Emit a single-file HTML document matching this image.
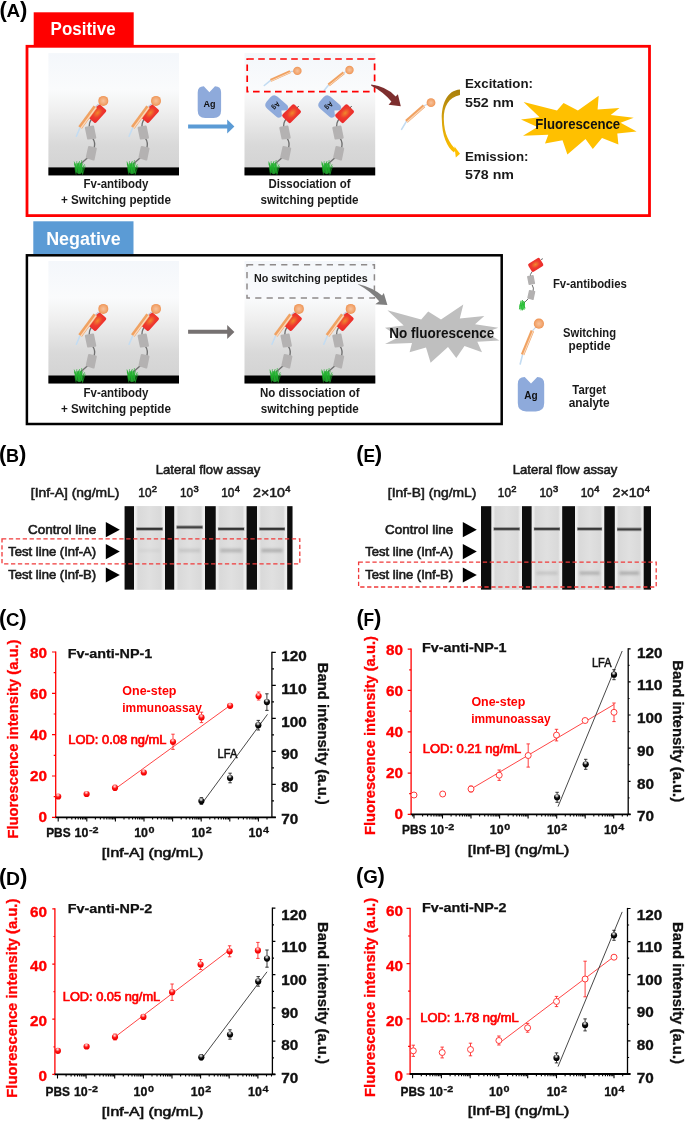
<!DOCTYPE html>
<html lang="en"><head><meta charset="utf-8"><title>Figure</title>
<style>html,body{margin:0;padding:0;background:#fff}svg{display:block}text{font-family:"Liberation Sans", sans-serif}</style>
</head><body>
<svg width="685" height="1121" viewBox="0 0 685 1121">
<defs>
<linearGradient id="gImg" x1="0" y1="0" x2="0" y2="1"><stop offset="0" stop-color="#f4f7fb"/><stop offset="0.3" stop-color="#fafbfc"/><stop offset="0.45" stop-color="#f1f1f1"/><stop offset="0.75" stop-color="#d9d9d9"/><stop offset="1" stop-color="#d2d2d2"/></linearGradient>
<radialGradient id="gRed" cx="0.5" cy="0.45" r="0.6"><stop offset="0" stop-color="#f08a2c"/><stop offset="0.55" stop-color="#ee3b2e"/><stop offset="1" stop-color="#ec2a2a"/></radialGradient>
<radialGradient id="gBall" cx="0.5" cy="0.5" r="0.5"><stop offset="0" stop-color="#f7c29c"/><stop offset="0.7" stop-color="#f2a66f"/><stop offset="1" stop-color="#ee9150"/></radialGradient>
<radialGradient id="gSphR" cx="0.45" cy="0.26" r="0.62"><stop offset="0" stop-color="#ffe4e4"/><stop offset="0.28" stop-color="#ff8a8a"/><stop offset="0.55" stop-color="#ff1a1a"/><stop offset="1" stop-color="#f00000"/></radialGradient>
<radialGradient id="gSphK" cx="0.45" cy="0.26" r="0.62"><stop offset="0" stop-color="#f4f4f4"/><stop offset="0.28" stop-color="#9c9c9c"/><stop offset="0.55" stop-color="#151515"/><stop offset="1" stop-color="#000"/></radialGradient>
<linearGradient id="gGold" x1="0" y1="0" x2="0" y2="1"><stop offset="0" stop-color="#a87f0c"/><stop offset="0.5" stop-color="#d9a40c"/><stop offset="1" stop-color="#ffc000"/></linearGradient>
<linearGradient id="gStrip" x1="0" y1="0" x2="1" y2="0"><stop offset="0" stop-color="#f0f0f0"/><stop offset="0.07" stop-color="#ececec"/><stop offset="0.13" stop-color="#d9d9d9"/><stop offset="0.5" stop-color="#e0e0e0"/><stop offset="0.87" stop-color="#d9d9d9"/><stop offset="0.93" stop-color="#ececec"/><stop offset="1" stop-color="#f0f0f0"/></linearGradient>
<linearGradient id="gGArr" x1="0" y1="0" x2="1" y2="1"><stop offset="0" stop-color="#8a8a8a"/><stop offset="1" stop-color="#a9a9a9"/></linearGradient>
<filter id="fBlur" x="-10%" y="-100%" width="120%" height="300%"><feGaussianBlur stdDeviation="0.9"/></filter>
</defs>
<rect width="685" height="1121" fill="#fff"/>
<text x="-0.6" y="16.7" font-size="22" font-weight="bold" fill="#000">(</text>
<text x="6.5" y="17.3" font-size="19" font-weight="bold" fill="#000" textLength="13.7" lengthAdjust="spacingAndGlyphs">A</text>
<text x="20.0" y="16.7" font-size="22" font-weight="bold" fill="#000">)</text>
<rect x="33.7" y="12.3" width="100" height="34" fill="#ff0000"/>
<text x="50.6" y="35.4" font-size="18" font-weight="bold" fill="#fff" textLength="65.0" lengthAdjust="spacingAndGlyphs">Positive</text>
<rect x="27" y="46.3" width="622.5" height="169.3" fill="#fff" stroke="#ff0000" stroke-width="2.8"/>
<rect x="48.4" y="53.1" width="130.6" height="122.3" fill="url(#gImg)"/>
<rect x="48.4" y="167.4" width="130.6" height="8.0" fill="#000"/>
<path d="M91.4 119.3Q88.5 123.3 89.6 127.8M92.6 138.1Q95.6 142.3 94.2 147.8M87.6 157.7L80.5 164.1" stroke="#707070" stroke-width="1.35" fill="none" stroke-linecap="round"/>
<path d="M86.0 127.9L93.0 126.6L95.2 137.6L88.2 138.4Z" fill="#b4b2b2" stroke="#b4b2b2" stroke-width="2.2" stroke-linejoin="round"/>
<path d="M89.1 147.2L95.7 148.5L93.5 159.5L86.9 157.3Z" fill="#b4b2b2" stroke="#b4b2b2" stroke-width="2.2" stroke-linejoin="round"/>
<ellipse cx="79.1" cy="168.5" rx="3.4" ry="5.8" fill="#30c840" opacity="0.62"/>
<path d="M78.7 170.8L81.2 164.6M79.1 171.0L77.4 163.7M79.9 172.6L78.1 166.9M76.1 172.8L76.9 168.2M82.5 174.0L83.7 165.8M76.5 166.4L76.8 161.5M76.8 168.2L74.3 161.9M78.6 173.0L78.9 164.4M79.0 171.6L79.0 165.3M82.6 174.3L85.1 166.2M77.7 168.1L77.0 163.3M80.9 169.5L82.9 163.3M82.3 173.1L80.3 168.3M82.0 170.1L84.6 164.5M75.9 171.3L77.4 165.6M76.0 169.0L79.5 161.5M76.2 168.3L74.9 163.9M81.1 167.7L81.7 160.4M76.8 172.2L74.6 164.3M76.2 169.7L75.0 163.8M82.4 172.7L81.1 162.7M76.9 169.5L79.4 161.9M76.1 174.2L74.9 168.4M81.0 168.9L80.3 164.1M76.0 171.0L74.6 162.9M78.1 169.9L80.8 163.8M79.5 173.2L78.3 168.1M81.9 172.8L81.0 167.3M80.7 173.8L78.5 163.8M81.8 171.1L81.6 166.0" stroke="#1fae2b" stroke-width="0.7" stroke-linecap="round" fill="none" opacity="0.8"/>
<rect x="-5.6" y="-8.7" width="11.2" height="17.4" rx="1.8" fill="url(#gRed)" transform="translate(97.0 113.5) rotate(42)"/>
<line x1="80.1" y1="127.5" x2="76.4" y2="136.2" stroke="#c3dcf2" stroke-width="1.6" stroke-linecap="round"/>
<line x1="95.4" y1="106.7" x2="103.3" y2="100.9" stroke="#c9d6e6" stroke-width="1.2"/>
<line x1="95.4" y1="106.7" x2="80.1" y2="127.5" stroke="#f0a262" stroke-width="4.4"/>
<line x1="96.2" y1="107.3" x2="80.9" y2="128.1" stroke="#fbd9bd" stroke-width="1.32"/>
<circle cx="103.3" cy="100.9" r="5.0" fill="url(#gBall)"/>
<path d="M144.1 119.3Q141.2 123.3 142.3 127.8M145.3 138.1Q148.3 142.3 146.9 147.8M140.3 157.7L133.2 164.1" stroke="#707070" stroke-width="1.35" fill="none" stroke-linecap="round"/>
<path d="M138.7 127.9L145.7 126.6L147.9 137.6L140.9 138.4Z" fill="#b4b2b2" stroke="#b4b2b2" stroke-width="2.2" stroke-linejoin="round"/>
<path d="M141.8 147.2L148.4 148.5L146.2 159.5L139.6 157.3Z" fill="#b4b2b2" stroke="#b4b2b2" stroke-width="2.2" stroke-linejoin="round"/>
<ellipse cx="131.8" cy="168.5" rx="3.4" ry="5.8" fill="#30c840" opacity="0.62"/>
<path d="M131.4 170.8L133.9 164.6M131.8 171.0L130.1 163.7M132.6 172.6L130.8 166.9M128.8 172.8L129.6 168.2M135.2 174.0L136.4 165.8M129.2 166.4L129.5 161.5M129.5 168.2L127.0 161.9M131.3 173.0L131.6 164.4M131.7 171.6L131.7 165.3M135.3 174.3L137.8 166.2M130.4 168.1L129.7 163.3M133.6 169.5L135.6 163.3M135.0 173.1L133.0 168.3M134.7 170.1L137.3 164.5M128.6 171.3L130.1 165.6M128.7 169.0L132.2 161.5M128.9 168.3L127.6 163.9M133.8 167.7L134.4 160.4M129.5 172.2L127.3 164.3M128.9 169.7L127.7 163.8M135.1 172.7L133.8 162.7M129.6 169.5L132.1 161.9M128.8 174.2L127.6 168.4M133.7 168.9L133.0 164.1M128.7 171.0L127.3 162.9M130.8 169.9L133.5 163.8M132.2 173.2L131.0 168.1M134.6 172.8L133.7 167.3M133.4 173.8L131.2 163.8M134.5 171.1L134.3 166.0" stroke="#1fae2b" stroke-width="0.7" stroke-linecap="round" fill="none" opacity="0.8"/>
<rect x="-5.6" y="-8.7" width="11.2" height="17.4" rx="1.8" fill="url(#gRed)" transform="translate(149.7 113.5) rotate(42)"/>
<line x1="132.8" y1="127.5" x2="129.1" y2="136.2" stroke="#c3dcf2" stroke-width="1.6" stroke-linecap="round"/>
<line x1="148.1" y1="106.7" x2="156.0" y2="100.9" stroke="#c9d6e6" stroke-width="1.2"/>
<line x1="148.1" y1="106.7" x2="132.8" y2="127.5" stroke="#f0a262" stroke-width="4.4"/>
<line x1="148.9" y1="107.3" x2="133.6" y2="128.1" stroke="#fbd9bd" stroke-width="1.32"/>
<circle cx="156.0" cy="100.9" r="5.0" fill="url(#gBall)"/>
<text x="116.0" y="187.9" font-size="12.5" font-weight="bold" fill="#1a1a1a" text-anchor="middle" textLength="65.0" lengthAdjust="spacingAndGlyphs">Fv-antibody</text>
<text x="116.0" y="204.1" font-size="12.5" font-weight="bold" fill="#1a1a1a" text-anchor="middle" textLength="110.0" lengthAdjust="spacingAndGlyphs">+ Switching peptide</text>
<g transform="translate(209.4 102.2) rotate(0)">
<path d="M-5.6 -15.9L-5.6 -15.9L0 -9.9L5.6 -15.9L5.6 -15.9Q11.7 -15.9 11.7 -9.8L11.7 8.4Q11.7 15.9 4.2 15.9L-4.2 15.9Q-11.7 15.9 -11.7 8.4L-11.7 -9.8Q-11.7 -15.9 -5.6 -15.9Z" fill="#8eaadb"/>
<text x="0.0" y="4.5" font-size="9.8" font-weight="bold" fill="#111" text-anchor="middle" textLength="12.0" lengthAdjust="spacingAndGlyphs">Ag</text>
</g>
<path d="M188.1 124.4H227.2V119.4L234.4 126.4L227.2 133.4V128.4H188.1Z" fill="#5b9bd5"/>
<rect x="244.5" y="53.1" width="130.7" height="122.3" fill="url(#gImg)"/>
<rect x="244.5" y="167.4" width="130.7" height="8.0" fill="#000"/>
<path d="M285.8 119.3Q282.9 123.3 284.0 127.8M287.0 138.1Q290.0 142.3 288.6 147.8M282.0 157.7L274.9 164.1" stroke="#707070" stroke-width="1.35" fill="none" stroke-linecap="round"/>
<path d="M280.4 127.9L287.4 126.6L289.6 137.6L282.6 138.4Z" fill="#b4b2b2" stroke="#b4b2b2" stroke-width="2.2" stroke-linejoin="round"/>
<path d="M283.5 147.2L290.1 148.5L287.9 159.5L281.3 157.3Z" fill="#b4b2b2" stroke="#b4b2b2" stroke-width="2.2" stroke-linejoin="round"/>
<ellipse cx="273.5" cy="168.5" rx="3.4" ry="5.8" fill="#30c840" opacity="0.62"/>
<path d="M273.1 170.8L275.6 164.6M273.5 171.0L271.8 163.7M274.3 172.6L272.5 166.9M270.5 172.8L271.3 168.2M276.9 174.0L278.1 165.8M270.9 166.4L271.2 161.5M271.2 168.2L268.7 161.9M273.0 173.0L273.3 164.4M273.4 171.6L273.4 165.3M277.0 174.3L279.5 166.2M272.1 168.1L271.4 163.3M275.3 169.5L277.3 163.3M276.7 173.1L274.7 168.3M276.4 170.1L279.0 164.5M270.3 171.3L271.8 165.6M270.4 169.0L273.9 161.5M270.6 168.3L269.3 163.9M275.5 167.7L276.1 160.4M271.2 172.2L269.0 164.3M270.6 169.7L269.4 163.8M276.8 172.7L275.5 162.7M271.3 169.5L273.8 161.9M270.5 174.2L269.3 168.4M275.4 168.9L274.7 164.1M270.4 171.0L269.0 162.9M272.5 169.9L275.2 163.8M273.9 173.2L272.7 168.1M276.3 172.8L275.4 167.3M275.1 173.8L272.9 163.8M276.2 171.1L276.0 166.0" stroke="#1fae2b" stroke-width="0.7" stroke-linecap="round" fill="none" opacity="0.8"/>
<line x1="296.6" y1="108.3" x2="298.6" y2="106.1" stroke="#444" stroke-width="1"/>
<rect x="-5.8" y="-8.5" width="11.6" height="17" rx="1.8" fill="url(#gRed)" transform="translate(291.6 113.7) rotate(45)"/>
<g transform="translate(276.5 106.3) rotate(131)">
<path d="M-3.8 -10.5L-3.8 -10.5L0 -6.5L3.8 -10.5L3.8 -10.5Q7.9 -10.5 7.9 -6.4L7.9 5.4Q7.9 10.5 2.8 10.5L-2.8 10.5Q-7.9 10.5 -7.9 5.4L-7.9 -6.4Q-7.9 -10.5 -3.8 -10.5Z" fill="#8eaadb"/>
<text x="0.0" y="2.9" font-size="7" font-weight="bold" fill="#111" text-anchor="middle" textLength="8.0" lengthAdjust="spacingAndGlyphs">Ag</text>
</g>
<path d="M338.8 119.3Q335.9 123.3 337.0 127.8M340.0 138.1Q343.0 142.3 341.6 147.8M335.0 157.7L327.9 164.1" stroke="#707070" stroke-width="1.35" fill="none" stroke-linecap="round"/>
<path d="M333.4 127.9L340.4 126.6L342.6 137.6L335.6 138.4Z" fill="#b4b2b2" stroke="#b4b2b2" stroke-width="2.2" stroke-linejoin="round"/>
<path d="M336.5 147.2L343.1 148.5L340.9 159.5L334.3 157.3Z" fill="#b4b2b2" stroke="#b4b2b2" stroke-width="2.2" stroke-linejoin="round"/>
<ellipse cx="326.5" cy="168.5" rx="3.4" ry="5.8" fill="#30c840" opacity="0.62"/>
<path d="M326.1 170.8L328.6 164.6M326.5 171.0L324.8 163.7M327.3 172.6L325.5 166.9M323.5 172.8L324.3 168.2M329.9 174.0L331.1 165.8M323.9 166.4L324.2 161.5M324.2 168.2L321.7 161.9M326.0 173.0L326.3 164.4M326.4 171.6L326.4 165.3M330.0 174.3L332.5 166.2M325.1 168.1L324.4 163.3M328.3 169.5L330.3 163.3M329.7 173.1L327.7 168.3M329.4 170.1L332.0 164.5M323.3 171.3L324.8 165.6M323.4 169.0L326.9 161.5M323.6 168.3L322.3 163.9M328.5 167.7L329.1 160.4M324.2 172.2L322.0 164.3M323.6 169.7L322.4 163.8M329.8 172.7L328.5 162.7M324.3 169.5L326.8 161.9M323.5 174.2L322.3 168.4M328.4 168.9L327.7 164.1M323.4 171.0L322.0 162.9M325.5 169.9L328.2 163.8M326.9 173.2L325.7 168.1M329.3 172.8L328.4 167.3M328.1 173.8L325.9 163.8M329.2 171.1L329.0 166.0" stroke="#1fae2b" stroke-width="0.7" stroke-linecap="round" fill="none" opacity="0.8"/>
<line x1="349.6" y1="108.3" x2="351.6" y2="106.1" stroke="#444" stroke-width="1"/>
<rect x="-5.8" y="-8.5" width="11.6" height="17" rx="1.8" fill="url(#gRed)" transform="translate(344.6 113.7) rotate(45)"/>
<g transform="translate(329.5 106.3) rotate(131)">
<path d="M-3.8 -10.5L-3.8 -10.5L0 -6.5L3.8 -10.5L3.8 -10.5Q7.9 -10.5 7.9 -6.4L7.9 5.4Q7.9 10.5 2.8 10.5L-2.8 10.5Q-7.9 10.5 -7.9 5.4L-7.9 -6.4Q-7.9 -10.5 -3.8 -10.5Z" fill="#8eaadb"/>
<text x="0.0" y="2.9" font-size="7" font-weight="bold" fill="#111" text-anchor="middle" textLength="8.0" lengthAdjust="spacingAndGlyphs">Ag</text>
</g>
<line x1="270.6" y1="80.4" x2="264.3" y2="85.5" stroke="#c3dcf2" stroke-width="1.6" stroke-linecap="round"/>
<line x1="290.2" y1="71.6" x2="297.4" y2="70.9" stroke="#c9d6e6" stroke-width="1.2"/>
<line x1="290.2" y1="71.6" x2="270.6" y2="80.4" stroke="#f0a262" stroke-width="3.2"/>
<line x1="290.5" y1="72.2" x2="270.9" y2="81.0" stroke="#fbd9bd" stroke-width="0.96"/>
<circle cx="297.4" cy="70.9" r="4.2" fill="url(#gBall)"/>
<line x1="328.6" y1="85.0" x2="324.3" y2="90.2" stroke="#c3dcf2" stroke-width="1.6" stroke-linecap="round"/>
<line x1="343.8" y1="72.8" x2="349.5" y2="70.0" stroke="#c9d6e6" stroke-width="1.2"/>
<line x1="343.8" y1="72.8" x2="328.6" y2="85.0" stroke="#f0a262" stroke-width="3.2"/>
<line x1="344.2" y1="73.3" x2="329.0" y2="85.5" stroke="#fbd9bd" stroke-width="0.96"/>
<circle cx="349.5" cy="70.0" r="4.2" fill="url(#gBall)"/>
<rect x="247.2" y="59.0" width="127.4" height="32.6" fill="none" stroke="#ff0000" stroke-width="1.7" stroke-dasharray="6.6 4.4"/>
<text x="309.5" y="187.9" font-size="12.5" font-weight="bold" fill="#1a1a1a" text-anchor="middle" textLength="82.0" lengthAdjust="spacingAndGlyphs">Dissociation of</text>
<text x="309.5" y="203.7" font-size="12.5" font-weight="bold" fill="#1a1a1a" text-anchor="middle" textLength="98.0" lengthAdjust="spacingAndGlyphs">switching peptide</text>
<path d="M371.2 84.6Q386.5 86.6 395.6 96.4L397.9 94.2L400.8 106.3L388.6 104.7L391.4 101.6Q383.5 91.8 371.2 85.7Z" fill="#7d2e2e"/>
<line x1="406.4" y1="121.4" x2="401.6" y2="129.4" stroke="#c3dcf2" stroke-width="1.6" stroke-linecap="round"/>
<line x1="424.0" y1="105.8" x2="431.0" y2="102.7" stroke="#c9d6e6" stroke-width="1.2"/>
<line x1="424.0" y1="105.8" x2="406.4" y2="121.4" stroke="#f0a262" stroke-width="3.6"/>
<line x1="424.5" y1="106.4" x2="406.9" y2="122.0" stroke="#fbd9bd" stroke-width="1.08"/>
<circle cx="431.0" cy="102.7" r="4.4" fill="url(#gBall)"/>
<path d="M460 89.6C447 90.5 441.6 104 441.8 119C442 136 447 147 454.0 152.6L455.8 149.2C449.6 143.5 444.0 134 443.8 119C443.6 106.5 448.5 97.2 460 95Z" fill="url(#gGold)"/>
<path d="M460.0 153.8L455.8 157.6L454.4 146.2Z" fill="#ffc000"/>
<text x="465.0" y="88.2" font-size="13.2" font-weight="bold" fill="#1a1a1a" textLength="68.0" lengthAdjust="spacingAndGlyphs">Excitation:</text>
<text x="465.0" y="107.0" font-size="13.2" font-weight="bold" fill="#1a1a1a" textLength="49.0" lengthAdjust="spacingAndGlyphs">552 nm</text>
<text x="465.0" y="160.5" font-size="13.2" font-weight="bold" fill="#1a1a1a" textLength="63.5" lengthAdjust="spacingAndGlyphs">Emission:</text>
<text x="465.0" y="179.3" font-size="13.2" font-weight="bold" fill="#1a1a1a" textLength="49.0" lengthAdjust="spacingAndGlyphs">578 nm</text>
<path d="M598.7 95.8L597.6 109.6L619.5 108.0L610.7 115.0L633.7 117.7L620.6 122.7L636.6 131.5L617.3 133.6L618.4 144.6L602.0 138.0L592.8 149.0L585.5 139.0L567.4 154.4L562.5 140.2L545.0 143.5L548.3 134.7L523.0 135.8L537.4 127.0L521.0 119.4L539.6 117.2L523.6 101.9L557.0 110.6L563.6 103.0L577.9 110.6Z" fill="#ffc000"/>
<text x="535.2" y="128.6" font-size="14" font-weight="bold" fill="#111" textLength="85.0" lengthAdjust="spacingAndGlyphs">Fluorescence</text>
<rect x="33.3" y="221.3" width="100.2" height="33" fill="#5b9bd5"/>
<text x="46.2" y="244.7" font-size="18.3" font-weight="bold" fill="#fff" textLength="74.6" lengthAdjust="spacingAndGlyphs">Negative</text>
<rect x="26.9" y="255.3" width="474.8" height="168.7" fill="#fff" stroke="#000" stroke-width="2.5"/>
<rect x="48.4" y="261" width="130.6" height="122.5" fill="url(#gImg)"/>
<rect x="48.4" y="375.5" width="130.6" height="8.0" fill="#000"/>
<path d="M91.4 327.3Q88.5 331.3 89.6 335.8M92.6 346.1Q95.6 350.3 94.2 355.8M87.6 365.7L80.5 372.1" stroke="#707070" stroke-width="1.35" fill="none" stroke-linecap="round"/>
<path d="M86.0 335.9L93.0 334.6L95.2 345.6L88.2 346.4Z" fill="#b4b2b2" stroke="#b4b2b2" stroke-width="2.2" stroke-linejoin="round"/>
<path d="M89.1 355.2L95.7 356.5L93.5 367.5L86.9 365.3Z" fill="#b4b2b2" stroke="#b4b2b2" stroke-width="2.2" stroke-linejoin="round"/>
<ellipse cx="79.1" cy="376.5" rx="3.4" ry="5.8" fill="#30c840" opacity="0.62"/>
<path d="M78.7 378.8L81.2 372.6M79.1 379.0L77.4 371.7M79.9 380.6L78.1 374.9M76.1 380.8L76.9 376.2M82.5 382.0L83.7 373.8M76.5 374.4L76.8 369.5M76.8 376.2L74.3 369.9M78.6 381.0L78.9 372.4M79.0 379.6L79.0 373.3M82.6 382.3L85.1 374.2M77.7 376.1L77.0 371.3M80.9 377.5L82.9 371.3M82.3 381.1L80.3 376.3M82.0 378.1L84.6 372.5M75.9 379.3L77.4 373.6M76.0 377.0L79.5 369.5M76.2 376.3L74.9 371.9M81.1 375.7L81.7 368.4M76.8 380.2L74.6 372.3M76.2 377.7L75.0 371.8M82.4 380.7L81.1 370.7M76.9 377.5L79.4 369.9M76.1 382.2L74.9 376.4M81.0 376.9L80.3 372.1M76.0 379.0L74.6 370.9M78.1 377.9L80.8 371.8M79.5 381.2L78.3 376.1M81.9 380.8L81.0 375.3M80.7 381.8L78.5 371.8M81.8 379.1L81.6 374.0" stroke="#1fae2b" stroke-width="0.7" stroke-linecap="round" fill="none" opacity="0.8"/>
<rect x="-5.6" y="-8.7" width="11.2" height="17.4" rx="1.8" fill="url(#gRed)" transform="translate(97.0 321.5) rotate(42)"/>
<line x1="80.1" y1="335.5" x2="76.4" y2="344.2" stroke="#c3dcf2" stroke-width="1.6" stroke-linecap="round"/>
<line x1="95.4" y1="314.7" x2="103.3" y2="308.9" stroke="#c9d6e6" stroke-width="1.2"/>
<line x1="95.4" y1="314.7" x2="80.1" y2="335.5" stroke="#f0a262" stroke-width="4.4"/>
<line x1="96.2" y1="315.3" x2="80.9" y2="336.1" stroke="#fbd9bd" stroke-width="1.32"/>
<circle cx="103.3" cy="308.9" r="5.0" fill="url(#gBall)"/>
<path d="M144.1 327.3Q141.2 331.3 142.3 335.8M145.3 346.1Q148.3 350.3 146.9 355.8M140.3 365.7L133.2 372.1" stroke="#707070" stroke-width="1.35" fill="none" stroke-linecap="round"/>
<path d="M138.7 335.9L145.7 334.6L147.9 345.6L140.9 346.4Z" fill="#b4b2b2" stroke="#b4b2b2" stroke-width="2.2" stroke-linejoin="round"/>
<path d="M141.8 355.2L148.4 356.5L146.2 367.5L139.6 365.3Z" fill="#b4b2b2" stroke="#b4b2b2" stroke-width="2.2" stroke-linejoin="round"/>
<ellipse cx="131.8" cy="376.5" rx="3.4" ry="5.8" fill="#30c840" opacity="0.62"/>
<path d="M131.4 378.8L133.9 372.6M131.8 379.0L130.1 371.7M132.6 380.6L130.8 374.9M128.8 380.8L129.6 376.2M135.2 382.0L136.4 373.8M129.2 374.4L129.5 369.5M129.5 376.2L127.0 369.9M131.3 381.0L131.6 372.4M131.7 379.6L131.7 373.3M135.3 382.3L137.8 374.2M130.4 376.1L129.7 371.3M133.6 377.5L135.6 371.3M135.0 381.1L133.0 376.3M134.7 378.1L137.3 372.5M128.6 379.3L130.1 373.6M128.7 377.0L132.2 369.5M128.9 376.3L127.6 371.9M133.8 375.7L134.4 368.4M129.5 380.2L127.3 372.3M128.9 377.7L127.7 371.8M135.1 380.7L133.8 370.7M129.6 377.5L132.1 369.9M128.8 382.2L127.6 376.4M133.7 376.9L133.0 372.1M128.7 379.0L127.3 370.9M130.8 377.9L133.5 371.8M132.2 381.2L131.0 376.1M134.6 380.8L133.7 375.3M133.4 381.8L131.2 371.8M134.5 379.1L134.3 374.0" stroke="#1fae2b" stroke-width="0.7" stroke-linecap="round" fill="none" opacity="0.8"/>
<rect x="-5.6" y="-8.7" width="11.2" height="17.4" rx="1.8" fill="url(#gRed)" transform="translate(149.7 321.5) rotate(42)"/>
<line x1="132.8" y1="335.5" x2="129.1" y2="344.2" stroke="#c3dcf2" stroke-width="1.6" stroke-linecap="round"/>
<line x1="148.1" y1="314.7" x2="156.0" y2="308.9" stroke="#c9d6e6" stroke-width="1.2"/>
<line x1="148.1" y1="314.7" x2="132.8" y2="335.5" stroke="#f0a262" stroke-width="4.4"/>
<line x1="148.9" y1="315.3" x2="133.6" y2="336.1" stroke="#fbd9bd" stroke-width="1.32"/>
<circle cx="156.0" cy="308.9" r="5.0" fill="url(#gBall)"/>
<text x="116.0" y="396.9" font-size="12.5" font-weight="bold" fill="#1a1a1a" text-anchor="middle" textLength="65.0" lengthAdjust="spacingAndGlyphs">Fv-antibody</text>
<text x="116.0" y="412.7" font-size="12.5" font-weight="bold" fill="#1a1a1a" text-anchor="middle" textLength="110.0" lengthAdjust="spacingAndGlyphs">+ Switching peptide</text>
<path d="M188.1 329.8H227.2V324.9L234.4 331.9L227.2 338.9V333.8H188.1Z" fill="#767171"/>
<rect x="244.5" y="261" width="130.8" height="122.5" fill="url(#gImg)"/>
<rect x="244.5" y="375.5" width="130.8" height="8.0" fill="#000"/>
<path d="M287.0 327.3Q284.1 331.3 285.2 335.8M288.2 346.1Q291.2 350.3 289.8 355.8M283.2 365.7L276.1 372.1" stroke="#707070" stroke-width="1.35" fill="none" stroke-linecap="round"/>
<path d="M281.6 335.9L288.6 334.6L290.8 345.6L283.8 346.4Z" fill="#b4b2b2" stroke="#b4b2b2" stroke-width="2.2" stroke-linejoin="round"/>
<path d="M284.7 355.2L291.3 356.5L289.1 367.5L282.5 365.3Z" fill="#b4b2b2" stroke="#b4b2b2" stroke-width="2.2" stroke-linejoin="round"/>
<ellipse cx="274.7" cy="376.5" rx="3.4" ry="5.8" fill="#30c840" opacity="0.62"/>
<path d="M274.3 378.8L276.8 372.6M274.7 379.0L273.0 371.7M275.5 380.6L273.7 374.9M271.7 380.8L272.5 376.2M278.1 382.0L279.3 373.8M272.1 374.4L272.4 369.5M272.4 376.2L269.9 369.9M274.2 381.0L274.5 372.4M274.6 379.6L274.6 373.3M278.2 382.3L280.7 374.2M273.3 376.1L272.6 371.3M276.5 377.5L278.5 371.3M277.9 381.1L275.9 376.3M277.6 378.1L280.2 372.5M271.5 379.3L273.0 373.6M271.6 377.0L275.1 369.5M271.8 376.3L270.5 371.9M276.7 375.7L277.3 368.4M272.4 380.2L270.2 372.3M271.8 377.7L270.6 371.8M278.0 380.7L276.7 370.7M272.5 377.5L275.0 369.9M271.7 382.2L270.5 376.4M276.6 376.9L275.9 372.1M271.6 379.0L270.2 370.9M273.7 377.9L276.4 371.8M275.1 381.2L273.9 376.1M277.5 380.8L276.6 375.3M276.3 381.8L274.1 371.8M277.4 379.1L277.2 374.0" stroke="#1fae2b" stroke-width="0.7" stroke-linecap="round" fill="none" opacity="0.8"/>
<rect x="-5.6" y="-8.7" width="11.2" height="17.4" rx="1.8" fill="url(#gRed)" transform="translate(292.6 321.5) rotate(42)"/>
<line x1="275.7" y1="335.5" x2="272.0" y2="344.2" stroke="#c3dcf2" stroke-width="1.6" stroke-linecap="round"/>
<line x1="291.0" y1="314.7" x2="298.9" y2="308.9" stroke="#c9d6e6" stroke-width="1.2"/>
<line x1="291.0" y1="314.7" x2="275.7" y2="335.5" stroke="#f0a262" stroke-width="4.4"/>
<line x1="291.8" y1="315.3" x2="276.5" y2="336.1" stroke="#fbd9bd" stroke-width="1.32"/>
<circle cx="298.9" cy="308.9" r="5.0" fill="url(#gBall)"/>
<path d="M338.8 327.3Q335.9 331.3 337.0 335.8M340.0 346.1Q343.0 350.3 341.6 355.8M335.0 365.7L327.9 372.1" stroke="#707070" stroke-width="1.35" fill="none" stroke-linecap="round"/>
<path d="M333.4 335.9L340.4 334.6L342.6 345.6L335.6 346.4Z" fill="#b4b2b2" stroke="#b4b2b2" stroke-width="2.2" stroke-linejoin="round"/>
<path d="M336.5 355.2L343.1 356.5L340.9 367.5L334.3 365.3Z" fill="#b4b2b2" stroke="#b4b2b2" stroke-width="2.2" stroke-linejoin="round"/>
<ellipse cx="326.5" cy="376.5" rx="3.4" ry="5.8" fill="#30c840" opacity="0.62"/>
<path d="M326.1 378.8L328.6 372.6M326.5 379.0L324.8 371.7M327.3 380.6L325.5 374.9M323.5 380.8L324.3 376.2M329.9 382.0L331.1 373.8M323.9 374.4L324.2 369.5M324.2 376.2L321.7 369.9M326.0 381.0L326.3 372.4M326.4 379.6L326.4 373.3M330.0 382.3L332.5 374.2M325.1 376.1L324.4 371.3M328.3 377.5L330.3 371.3M329.7 381.1L327.7 376.3M329.4 378.1L332.0 372.5M323.3 379.3L324.8 373.6M323.4 377.0L326.9 369.5M323.6 376.3L322.3 371.9M328.5 375.7L329.1 368.4M324.2 380.2L322.0 372.3M323.6 377.7L322.4 371.8M329.8 380.7L328.5 370.7M324.3 377.5L326.8 369.9M323.5 382.2L322.3 376.4M328.4 376.9L327.7 372.1M323.4 379.0L322.0 370.9M325.5 377.9L328.2 371.8M326.9 381.2L325.7 376.1M329.3 380.8L328.4 375.3M328.1 381.8L325.9 371.8M329.2 379.1L329.0 374.0" stroke="#1fae2b" stroke-width="0.7" stroke-linecap="round" fill="none" opacity="0.8"/>
<rect x="-5.6" y="-8.7" width="11.2" height="17.4" rx="1.8" fill="url(#gRed)" transform="translate(344.4 321.5) rotate(42)"/>
<line x1="327.5" y1="335.5" x2="323.8" y2="344.2" stroke="#c3dcf2" stroke-width="1.6" stroke-linecap="round"/>
<line x1="342.8" y1="314.7" x2="350.7" y2="308.9" stroke="#c9d6e6" stroke-width="1.2"/>
<line x1="342.8" y1="314.7" x2="327.5" y2="335.5" stroke="#f0a262" stroke-width="4.4"/>
<line x1="343.6" y1="315.3" x2="328.3" y2="336.1" stroke="#fbd9bd" stroke-width="1.32"/>
<circle cx="350.7" cy="308.9" r="5.0" fill="url(#gBall)"/>
<rect x="247" y="264.8" width="127.4" height="33.2" fill="#f6f8fb" fill-opacity="0.6" stroke="#8e8a8a" stroke-width="1.5" stroke-dasharray="6.2 5.2"/>
<text x="254.0" y="282.0" font-size="11.6" font-weight="bold" fill="#1a1a1a" textLength="113.8" lengthAdjust="spacingAndGlyphs">No switching peptides</text>
<text x="309.8" y="397.0" font-size="12.5" font-weight="bold" fill="#1a1a1a" text-anchor="middle" textLength="99.7" lengthAdjust="spacingAndGlyphs">No dissociation of</text>
<text x="309.8" y="412.7" font-size="12.5" font-weight="bold" fill="#1a1a1a" text-anchor="middle" textLength="98.0" lengthAdjust="spacingAndGlyphs">switching peptide</text>
<path d="M358.2 284.0Q372.5 287.6 382.0 295.4L383.8 293.0L387.4 305.0L375.2 304.3L379.2 301.2Q370.5 291.2 358.2 284.6Z" fill="#7f7f7f"/>
<path d="M463.3 304.4L459.8 318.4L484.3 316.0L475.0 324.2L498.3 327.7L485.5 332.4L499.5 340.6L477.3 341.8L482.0 352.3L464.5 346.0L456.3 358.0L448.0 347.0L430.6 362.8L426.0 347.6L409.6 352.3L412.0 343.0L385.0 344.0L399.0 337.0L385.0 327.7L403.7 325.4L387.4 310.2L421.2 319.6L428.2 311.4L441.0 319.6Z" fill="#bfbfbf"/>
<text x="389.2" y="337.6" font-size="14" font-weight="bold" fill="#111" textLength="105.0" lengthAdjust="spacingAndGlyphs">No fluorescence</text>
<path d="M532.2 271.5Q529.5 274.5 530.5 277.5M532.2 285Q534.2 288 533 291.5M528.5 298.5L524 303" stroke="#6b6b6b" stroke-width="1" fill="none"/>
<path d="M527.8 276.8L533 275.8L534.4 283.4L529.2 284.2Z" fill="#b3b1b1" stroke="#b3b1b1" stroke-width="1.4" stroke-linejoin="round"/>
<path d="M529.6 290.6L534.6 291.6L533 299.4L528 297.8Z" fill="#b3b1b1" stroke="#b3b1b1" stroke-width="1.4" stroke-linejoin="round"/>
<rect x="-6.8" y="-4.8" width="13.5" height="9.5" rx="1.8" fill="url(#gRed)" transform="translate(535.8 264.9) rotate(-32)"/>
<line x1="541.5" y1="260" x2="542.4" y2="258.4" stroke="#444" stroke-width="0.9"/>
<path d="M519.5 309L521 301M521 310L522.5 300.5M522.5 310L523.5 301.5M524 309.5L524.5 302M520 306L524.5 304M525 308L522 302" stroke="#1fb52a" stroke-width="0.9" fill="none" stroke-linecap="round"/>
<ellipse cx="522" cy="306" rx="2.6" ry="3.6" fill="#27c235" opacity="0.75"/>
<text x="552.9" y="288.3" font-size="12.5" font-weight="bold" fill="#1a1a1a" textLength="74.0" lengthAdjust="spacingAndGlyphs">Fv-antibodies</text>
<line x1="522.6" y1="354.6" x2="520.2" y2="364.0" stroke="#c3dcf2" stroke-width="1.6" stroke-linecap="round"/>
<line x1="532.4" y1="330.8" x2="538.9" y2="323.7" stroke="#c9d6e6" stroke-width="1.2"/>
<line x1="532.4" y1="330.8" x2="522.6" y2="354.6" stroke="#f0a262" stroke-width="3.6"/>
<line x1="533.1" y1="331.1" x2="523.3" y2="354.9" stroke="#fbd9bd" stroke-width="1.08"/>
<circle cx="538.9" cy="323.7" r="5.1" fill="url(#gBall)"/>
<text x="589.5" y="336.7" font-size="12.5" font-weight="bold" fill="#1a1a1a" text-anchor="middle" textLength="53.0" lengthAdjust="spacingAndGlyphs">Switching</text>
<text x="589.5" y="349.8" font-size="12.5" font-weight="bold" fill="#1a1a1a" text-anchor="middle" textLength="42.0" lengthAdjust="spacingAndGlyphs">peptide</text>
<g transform="translate(531.0 394.2) rotate(0)">
<path d="M-6.3 -17.2L-6.3 -17.2L0 -10.7L6.3 -17.2L6.3 -17.2Q13.2 -17.2 13.2 -10.3L13.2 8.8Q13.2 17.2 4.8 17.2L-4.8 17.2Q-13.2 17.2 -13.2 8.8L-13.2 -10.3Q-13.2 -17.2 -6.3 -17.2Z" fill="#8eaadb"/>
<text x="0.0" y="4.8" font-size="10.5" font-weight="bold" fill="#111" text-anchor="middle" textLength="13.4" lengthAdjust="spacingAndGlyphs">Ag</text>
</g>
<text x="589.2" y="393.9" font-size="12.5" font-weight="bold" fill="#1a1a1a" text-anchor="middle" textLength="33.7" lengthAdjust="spacingAndGlyphs">Target</text>
<text x="589.2" y="407.0" font-size="12.5" font-weight="bold" fill="#1a1a1a" text-anchor="middle" textLength="41.0" lengthAdjust="spacingAndGlyphs">analyte</text>
<text x="-1.0" y="461.3" font-size="22" font-weight="bold" fill="#000">(</text>
<text x="6.1" y="461.9" font-size="19" font-weight="bold" fill="#000" textLength="13.0" lengthAdjust="spacingAndGlyphs">B</text>
<text x="18.9" y="461.3" font-size="22" font-weight="bold" fill="#000">)</text>
<text x="155.8" y="474.3" font-size="12.8" font-weight="normal" fill="#1a1a1a" textLength="104.5" lengthAdjust="spacingAndGlyphs" stroke="#1a1a1a" stroke-width="0.55">Lateral flow assay</text>
<text x="30.8" y="497.1" font-size="12.8" font-weight="normal" fill="#1a1a1a" textLength="88.6" lengthAdjust="spacingAndGlyphs" stroke="#1a1a1a" stroke-width="0.55">[Inf-A] (ng/mL)</text>
<text x="138.3" y="496.9" font-size="13.2" font-weight="normal" fill="#1a1a1a" textLength="13.2" lengthAdjust="spacingAndGlyphs" stroke="#1a1a1a" stroke-width="0.55">10</text>
<text x="151.8" y="492.1" font-size="8.712" font-weight="normal" fill="#1a1a1a" textLength="5.2" lengthAdjust="spacingAndGlyphs" stroke="#1a1a1a" stroke-width="0.55">2</text>
<text x="180.0" y="496.9" font-size="13.2" font-weight="normal" fill="#1a1a1a" textLength="13.2" lengthAdjust="spacingAndGlyphs" stroke="#1a1a1a" stroke-width="0.55">10</text>
<text x="193.5" y="492.1" font-size="8.712" font-weight="normal" fill="#1a1a1a" textLength="5.2" lengthAdjust="spacingAndGlyphs" stroke="#1a1a1a" stroke-width="0.55">3</text>
<text x="221.2" y="496.9" font-size="13.2" font-weight="normal" fill="#1a1a1a" textLength="13.2" lengthAdjust="spacingAndGlyphs" stroke="#1a1a1a" stroke-width="0.55">10</text>
<text x="234.7" y="492.1" font-size="8.712" font-weight="normal" fill="#1a1a1a" textLength="5.2" lengthAdjust="spacingAndGlyphs" stroke="#1a1a1a" stroke-width="0.55">4</text>
<text x="253.0" y="496.9" font-size="13.2" font-weight="normal" fill="#1a1a1a" textLength="32.0" lengthAdjust="spacingAndGlyphs" stroke="#1a1a1a" stroke-width="0.55">2×10</text>
<text x="285.3" y="492.1" font-size="8.712" font-weight="normal" fill="#1a1a1a" textLength="5.2" lengthAdjust="spacingAndGlyphs" stroke="#1a1a1a" stroke-width="0.55">4</text>
<text x="96.2" y="534.3" font-size="12.8" font-weight="normal" fill="#1a1a1a" text-anchor="end" textLength="68.2" lengthAdjust="spacingAndGlyphs" stroke="#1a1a1a" stroke-width="0.6">Control line</text>
<text x="96.2" y="556.0" font-size="12.8" font-weight="normal" fill="#1a1a1a" text-anchor="end" textLength="88.0" lengthAdjust="spacingAndGlyphs" stroke="#1a1a1a" stroke-width="0.6">Test line (Inf-A)</text>
<text x="96.2" y="579.4" font-size="12.8" font-weight="normal" fill="#1a1a1a" text-anchor="end" textLength="88.0" lengthAdjust="spacingAndGlyphs" stroke="#1a1a1a" stroke-width="0.6">Test line (Inf-B)</text>
<path d="M105.8 522.1L119.8 529.7L105.8 537.3Z" fill="#000"/>
<path d="M105.8 544.0L119.8 551.6L105.8 559.2Z" fill="#000"/>
<path d="M105.8 567.4L119.8 575.0L105.8 582.6Z" fill="#000"/>
<rect x="124.6" y="506.2" width="167.9" height="83.4" fill="#dedede"/>
<rect x="134" y="506.2" width="31.0" height="83.4" fill="url(#gStrip)"/>
<rect x="136.2" y="527.0" width="26.6" height="3.8" fill="#8d8d8d" opacity="0.8"/>
<rect x="136.6" y="528.0" width="25.8" height="1.9" fill="#2c2c2c" opacity="0.95"/>
<rect x="138.0" y="548.1" width="23.0" height="4.8" rx="1.5" fill="#8a8a8a" opacity="0.03" filter="url(#fBlur)"/>
<rect x="139.0" y="549.4" width="21.0" height="2.2" rx="1" fill="#777" opacity="0.05" filter="url(#fBlur)"/>
<rect x="174.2" y="506.2" width="30.8" height="83.4" fill="url(#gStrip)"/>
<rect x="176.4" y="525.3" width="26.4" height="3.8" fill="#8d8d8d" opacity="0.8"/>
<rect x="176.8" y="526.3" width="25.6" height="1.9" fill="#2c2c2c" opacity="0.8"/>
<rect x="178.2" y="548.1" width="22.8" height="4.8" rx="1.5" fill="#8a8a8a" opacity="0.11" filter="url(#fBlur)"/>
<rect x="179.2" y="549.4" width="20.8" height="2.2" rx="1" fill="#777" opacity="0.16" filter="url(#fBlur)"/>
<rect x="215.7" y="506.2" width="30.9" height="83.4" fill="url(#gStrip)"/>
<rect x="217.9" y="527.0" width="26.5" height="3.8" fill="#8d8d8d" opacity="0.8"/>
<rect x="218.3" y="528.0" width="25.7" height="1.9" fill="#2c2c2c" opacity="0.95"/>
<rect x="219.7" y="548.1" width="22.9" height="4.8" rx="1.5" fill="#8a8a8a" opacity="0.21" filter="url(#fBlur)"/>
<rect x="220.7" y="549.4" width="20.9" height="2.2" rx="1" fill="#777" opacity="0.30" filter="url(#fBlur)"/>
<rect x="257" y="506.2" width="30.2" height="83.4" fill="url(#gStrip)"/>
<rect x="259.2" y="527.0" width="25.8" height="3.8" fill="#8d8d8d" opacity="0.8"/>
<rect x="259.6" y="528.0" width="25.0" height="1.9" fill="#2c2c2c" opacity="0.95"/>
<rect x="261.0" y="548.1" width="22.2" height="4.8" rx="1.5" fill="#8a8a8a" opacity="0.24" filter="url(#fBlur)"/>
<rect x="262.0" y="549.4" width="20.2" height="2.2" rx="1" fill="#777" opacity="0.34" filter="url(#fBlur)"/>
<rect x="124.6" y="506.2" width="9.4" height="83.4" fill="#0d0d0d"/>
<rect x="165" y="506.2" width="9.2" height="83.4" fill="#0d0d0d"/>
<rect x="205" y="506.2" width="10.7" height="83.4" fill="#0d0d0d"/>
<rect x="246.6" y="506.2" width="10.4" height="83.4" fill="#0d0d0d"/>
<rect x="287.2" y="506.2" width="5.3" height="83.4" fill="#0d0d0d"/>
<rect x="2" y="538.9" width="297.8" height="24.9" fill="none" stroke="#f03a3a" stroke-width="1.3" stroke-dasharray="4.3 2.6"/>
<text x="356.3" y="461.3" font-size="22" font-weight="bold" fill="#000">(</text>
<text x="363.4" y="461.9" font-size="19" font-weight="bold" fill="#000" textLength="11.6" lengthAdjust="spacingAndGlyphs">E</text>
<text x="374.8" y="461.3" font-size="22" font-weight="bold" fill="#000">)</text>
<text x="512.8" y="474.3" font-size="12.8" font-weight="normal" fill="#1a1a1a" textLength="104.5" lengthAdjust="spacingAndGlyphs" stroke="#1a1a1a" stroke-width="0.55">Lateral flow assay</text>
<text x="387.8" y="497.1" font-size="12.8" font-weight="normal" fill="#1a1a1a" textLength="88.6" lengthAdjust="spacingAndGlyphs" stroke="#1a1a1a" stroke-width="0.55">[Inf-B] (ng/mL)</text>
<text x="497.8" y="496.9" font-size="13.2" font-weight="normal" fill="#1a1a1a" textLength="13.2" lengthAdjust="spacingAndGlyphs" stroke="#1a1a1a" stroke-width="0.55">10</text>
<text x="511.3" y="492.1" font-size="8.712" font-weight="normal" fill="#1a1a1a" textLength="5.2" lengthAdjust="spacingAndGlyphs" stroke="#1a1a1a" stroke-width="0.55">2</text>
<text x="539.5" y="496.9" font-size="13.2" font-weight="normal" fill="#1a1a1a" textLength="13.2" lengthAdjust="spacingAndGlyphs" stroke="#1a1a1a" stroke-width="0.55">10</text>
<text x="553.0" y="492.1" font-size="8.712" font-weight="normal" fill="#1a1a1a" textLength="5.2" lengthAdjust="spacingAndGlyphs" stroke="#1a1a1a" stroke-width="0.55">3</text>
<text x="580.7" y="496.9" font-size="13.2" font-weight="normal" fill="#1a1a1a" textLength="13.2" lengthAdjust="spacingAndGlyphs" stroke="#1a1a1a" stroke-width="0.55">10</text>
<text x="594.2" y="492.1" font-size="8.712" font-weight="normal" fill="#1a1a1a" textLength="5.2" lengthAdjust="spacingAndGlyphs" stroke="#1a1a1a" stroke-width="0.55">4</text>
<text x="612.5" y="496.9" font-size="13.2" font-weight="normal" fill="#1a1a1a" textLength="32.0" lengthAdjust="spacingAndGlyphs" stroke="#1a1a1a" stroke-width="0.55">2×10</text>
<text x="644.8" y="492.1" font-size="8.712" font-weight="normal" fill="#1a1a1a" textLength="5.2" lengthAdjust="spacingAndGlyphs" stroke="#1a1a1a" stroke-width="0.55">4</text>
<text x="453.2" y="534.3" font-size="12.8" font-weight="normal" fill="#1a1a1a" text-anchor="end" textLength="68.2" lengthAdjust="spacingAndGlyphs" stroke="#1a1a1a" stroke-width="0.6">Control line</text>
<text x="453.2" y="556.0" font-size="12.8" font-weight="normal" fill="#1a1a1a" text-anchor="end" textLength="88.0" lengthAdjust="spacingAndGlyphs" stroke="#1a1a1a" stroke-width="0.6">Test line (Inf-A)</text>
<text x="453.2" y="579.4" font-size="12.8" font-weight="normal" fill="#1a1a1a" text-anchor="end" textLength="88.0" lengthAdjust="spacingAndGlyphs" stroke="#1a1a1a" stroke-width="0.6">Test line (Inf-B)</text>
<path d="M462.8 522.1L476.8 529.7L462.8 537.3Z" fill="#000"/>
<path d="M462.8 544.0L476.8 551.6L462.8 559.2Z" fill="#000"/>
<path d="M462.8 567.4L476.8 575.0L462.8 582.6Z" fill="#000"/>
<rect x="481" y="506.2" width="170.0" height="83.4" fill="#dedede"/>
<rect x="491.3" y="506.2" width="30.7" height="83.4" fill="url(#gStrip)"/>
<rect x="493.5" y="527.0" width="26.3" height="3.8" fill="#8d8d8d" opacity="0.8"/>
<rect x="493.9" y="528.0" width="25.5" height="1.9" fill="#2c2c2c" opacity="0.85"/>
<rect x="531.6" y="506.2" width="30.6" height="83.4" fill="url(#gStrip)"/>
<rect x="533.8" y="527.0" width="26.2" height="3.8" fill="#8d8d8d" opacity="0.8"/>
<rect x="534.2" y="528.0" width="25.4" height="1.9" fill="#2c2c2c" opacity="0.9"/>
<rect x="535.6" y="570.8" width="22.6" height="4.8" rx="1.5" fill="#8a8a8a" opacity="0.11" filter="url(#fBlur)"/>
<rect x="536.6" y="572.1" width="20.6" height="2.2" rx="1" fill="#777" opacity="0.16" filter="url(#fBlur)"/>
<rect x="575" y="506.2" width="29.3" height="83.4" fill="url(#gStrip)"/>
<rect x="577.2" y="527.0" width="24.9" height="3.8" fill="#8d8d8d" opacity="0.8"/>
<rect x="577.6" y="528.0" width="24.1" height="1.9" fill="#2c2c2c" opacity="0.9"/>
<rect x="579.0" y="570.8" width="21.3" height="4.8" rx="1.5" fill="#8a8a8a" opacity="0.21" filter="url(#fBlur)"/>
<rect x="580.0" y="572.1" width="19.3" height="2.2" rx="1" fill="#777" opacity="0.30" filter="url(#fBlur)"/>
<rect x="614.8" y="506.2" width="28.9" height="83.4" fill="url(#gStrip)"/>
<rect x="617.0" y="527.4" width="24.5" height="3.8" fill="#8d8d8d" opacity="0.8"/>
<rect x="617.4" y="528.4" width="23.7" height="1.9" fill="#2c2c2c" opacity="0.85"/>
<rect x="618.8" y="570.8" width="20.9" height="4.8" rx="1.5" fill="#8a8a8a" opacity="0.23" filter="url(#fBlur)"/>
<rect x="619.8" y="572.1" width="18.9" height="2.2" rx="1" fill="#777" opacity="0.33" filter="url(#fBlur)"/>
<rect x="481" y="506.2" width="10.3" height="83.4" fill="#0d0d0d"/>
<rect x="522" y="506.2" width="9.6" height="83.4" fill="#0d0d0d"/>
<rect x="562.2" y="506.2" width="12.8" height="83.4" fill="#0d0d0d"/>
<rect x="604.3" y="506.2" width="10.5" height="83.4" fill="#0d0d0d"/>
<rect x="643.7" y="506.2" width="7.3" height="83.4" fill="#0d0d0d"/>
<rect x="358.6" y="562.2" width="297.6" height="24.8" fill="none" stroke="#f03a3a" stroke-width="1.3" stroke-dasharray="4.3 2.6"/>
<text x="-1.0" y="625.0" font-size="22" font-weight="bold" fill="#000">(</text>
<text x="6.1" y="625.6" font-size="19" font-weight="bold" fill="#000" textLength="13.4" lengthAdjust="spacingAndGlyphs">C</text>
<text x="19.3" y="625.0" font-size="22" font-weight="bold" fill="#000">)</text>
<line x1="115" y1="789" x2="230" y2="705.5" stroke="#ff3030" stroke-width="0.9"/>
<line x1="201.4" y1="804.3" x2="267.5" y2="714.3" stroke="#333" stroke-width="0.9"/>
<line x1="55.7" y1="651.4" x2="55.7" y2="818.0" stroke="#ff0000" stroke-width="1.3"/>
<line x1="271.9" y1="651.7" x2="271.9" y2="818.0" stroke="#000" stroke-width="1.3"/>
<line x1="55.1" y1="817.4" x2="275.8" y2="817.4" stroke="#000" stroke-width="1.8"/>
<path d="M52.0 817.4H55.7M53.7 796.7H55.7M52.0 776.0H55.7M53.7 755.4H55.7M52.0 734.7H55.7M53.7 714.0H55.7M52.0 693.4H55.7M53.7 672.7H55.7M52.0 652.0H55.7" stroke="#ff0000" stroke-width="1.2" fill="none"/>
<path d="M271.9 817.4H275.8M271.9 800.9H274.0M271.9 784.4H275.8M271.9 767.9H274.0M271.9 751.4H275.8M271.9 734.8H274.0M271.9 718.3H275.8M271.9 701.8H274.0M271.9 685.3H275.8M271.9 668.8H274.0M271.9 652.3H275.8" stroke="#000" stroke-width="1.2" fill="none"/>
<path d="M58.2 817.4V821.6M66.8 817.4V819.6M71.8 817.4V819.6M75.4 817.4V819.6M78.2 817.4V819.6M80.5 817.4V819.6M82.4 817.4V819.6M84.0 817.4V819.6M85.5 817.4V819.6M86.8 817.4V821.6M95.4 817.4V819.6M100.4 817.4V819.6M104.0 817.4V819.6M106.8 817.4V819.6M109.1 817.4V819.6M111.0 817.4V819.6M112.6 817.4V819.6M114.1 817.4V819.6M115.4 817.4V821.6M124.0 817.4V819.6M129.0 817.4V819.6M132.6 817.4V819.6M135.4 817.4V819.6M137.7 817.4V819.6M139.6 817.4V819.6M141.2 817.4V819.6M142.7 817.4V819.6M144.0 817.4V821.6M152.6 817.4V819.6M157.6 817.4V819.6M161.2 817.4V819.6M164.0 817.4V819.6M166.3 817.4V819.6M168.2 817.4V819.6M169.8 817.4V819.6M171.3 817.4V819.6M172.6 817.4V821.6M181.2 817.4V819.6M186.2 817.4V819.6M189.8 817.4V819.6M192.6 817.4V819.6M194.9 817.4V819.6M196.8 817.4V819.6M198.4 817.4V819.6M199.9 817.4V819.6M201.2 817.4V821.6M209.8 817.4V819.6M214.8 817.4V819.6M218.4 817.4V819.6M221.2 817.4V819.6M223.5 817.4V819.6M225.4 817.4V819.6M227.0 817.4V819.6M228.5 817.4V819.6M229.8 817.4V821.6M238.4 817.4V819.6M243.4 817.4V819.6M247.0 817.4V819.6M249.8 817.4V819.6M252.1 817.4V819.6M254.0 817.4V819.6M255.6 817.4V819.6M257.1 817.4V819.6M258.4 817.4V821.6M267.0 817.4V819.6" stroke="#000" stroke-width="1.1" fill="none"/>
<text x="46.9" y="822.2" font-size="14.3" font-weight="bold" fill="#ff0000" text-anchor="end" textLength="8.5" lengthAdjust="spacingAndGlyphs" stroke="#ff0000" stroke-width="0.35">0</text>
<text x="46.9" y="781.2" font-size="14.3" font-weight="bold" fill="#ff0000" text-anchor="end" textLength="17.0" lengthAdjust="spacingAndGlyphs" stroke="#ff0000" stroke-width="0.35">20</text>
<text x="46.9" y="740.3" font-size="14.3" font-weight="bold" fill="#ff0000" text-anchor="end" textLength="17.0" lengthAdjust="spacingAndGlyphs" stroke="#ff0000" stroke-width="0.35">40</text>
<text x="46.9" y="699.4" font-size="14.3" font-weight="bold" fill="#ff0000" text-anchor="end" textLength="17.0" lengthAdjust="spacingAndGlyphs" stroke="#ff0000" stroke-width="0.35">60</text>
<text x="46.9" y="658.4" font-size="14.3" font-weight="bold" fill="#ff0000" text-anchor="end" textLength="17.0" lengthAdjust="spacingAndGlyphs" stroke="#ff0000" stroke-width="0.35">80</text>
<text x="281.2" y="824.2" font-size="14.3" font-weight="bold" fill="#111" textLength="17.0" lengthAdjust="spacingAndGlyphs" stroke="#111" stroke-width="0.35">70</text>
<text x="281.2" y="791.6" font-size="14.3" font-weight="bold" fill="#111" textLength="17.0" lengthAdjust="spacingAndGlyphs" stroke="#111" stroke-width="0.35">80</text>
<text x="281.2" y="759.0" font-size="14.3" font-weight="bold" fill="#111" textLength="17.0" lengthAdjust="spacingAndGlyphs" stroke="#111" stroke-width="0.35">90</text>
<text x="281.2" y="726.5" font-size="14.3" font-weight="bold" fill="#111" textLength="25.5" lengthAdjust="spacingAndGlyphs" stroke="#111" stroke-width="0.35">100</text>
<text x="281.2" y="693.9" font-size="14.3" font-weight="bold" fill="#111" textLength="25.5" lengthAdjust="spacingAndGlyphs" stroke="#111" stroke-width="0.35">110</text>
<text x="281.2" y="661.3" font-size="14.3" font-weight="bold" fill="#111" textLength="25.5" lengthAdjust="spacingAndGlyphs" stroke="#111" stroke-width="0.35">120</text>
<text x="46.2" y="836.6" font-size="13.3" font-weight="bold" fill="#111" textLength="24.4" lengthAdjust="spacingAndGlyphs" stroke="#111" stroke-width="0.35">PBS</text>
<text x="74.6" y="836.6" font-size="13.3" font-weight="bold" fill="#111" textLength="13.8" lengthAdjust="spacingAndGlyphs" stroke="#111" stroke-width="0.35">10</text>
<text x="89.0" y="832.6" font-size="9.4" font-weight="bold" fill="#111" textLength="9.6" lengthAdjust="spacingAndGlyphs" stroke="#111" stroke-width="0.3">-2</text>
<text x="134.2" y="836.6" font-size="13.3" font-weight="bold" fill="#111" textLength="13.8" lengthAdjust="spacingAndGlyphs" stroke="#111" stroke-width="0.35">10</text>
<text x="148.6" y="832.6" font-size="9.4" font-weight="bold" fill="#111" textLength="6.0" lengthAdjust="spacingAndGlyphs" stroke="#111" stroke-width="0.3">0</text>
<text x="191.4" y="836.6" font-size="13.3" font-weight="bold" fill="#111" textLength="13.8" lengthAdjust="spacingAndGlyphs" stroke="#111" stroke-width="0.35">10</text>
<text x="205.8" y="832.6" font-size="9.4" font-weight="bold" fill="#111" textLength="6.0" lengthAdjust="spacingAndGlyphs" stroke="#111" stroke-width="0.3">2</text>
<text x="248.6" y="836.6" font-size="13.3" font-weight="bold" fill="#111" textLength="13.8" lengthAdjust="spacingAndGlyphs" stroke="#111" stroke-width="0.35">10</text>
<text x="263.0" y="832.6" font-size="9.4" font-weight="bold" fill="#111" textLength="6.0" lengthAdjust="spacingAndGlyphs" stroke="#111" stroke-width="0.3">4</text>
<text x="101.7" y="856.6" font-size="13.5" font-weight="normal" fill="#111" textLength="101.5" lengthAdjust="spacingAndGlyphs" stroke="#111" stroke-width="0.6">[Inf-A] (ng/mL)</text>
<text x="17.5" y="739.0" font-size="14.5" font-weight="bold" fill="#ff0000" text-anchor="middle" textLength="199.0" lengthAdjust="spacingAndGlyphs" transform="rotate(-90 17.5 739.0)" stroke="#ff0000" stroke-width="0.3">Fluorescence intensity (a.u.)</text>
<text x="317.6" y="733.8" font-size="14.5" font-weight="bold" fill="#111" text-anchor="middle" textLength="142.0" lengthAdjust="spacingAndGlyphs" transform="rotate(90 317.6 733.8)" stroke="#111" stroke-width="0.3">Band intensity (a.u.)</text>
<text x="67.8" y="657.7" font-size="12.6" font-weight="bold" fill="#111" textLength="84.5" lengthAdjust="spacingAndGlyphs" stroke="#111" stroke-width="0.25">Fv-anti-NP-1</text>
<text x="122.3" y="694.8" font-size="12.6" font-weight="bold" fill="#ff0000" textLength="54.2" lengthAdjust="spacingAndGlyphs">One-step</text>
<text x="122.3" y="711.8" font-size="12.6" font-weight="bold" fill="#ff0000" textLength="79.6" lengthAdjust="spacingAndGlyphs">immunoassay</text>
<text x="68.3" y="744.3" font-size="12.6" font-weight="normal" fill="#ff0000" textLength="98.2" lengthAdjust="spacingAndGlyphs" stroke="#ff0000" stroke-width="0.7">LOD: 0.08 ng/mL</text>
<text x="217.6" y="757.7" font-size="12.6" font-weight="normal" fill="#111" textLength="19.7" lengthAdjust="spacingAndGlyphs" stroke="#111" stroke-width="0.55">LFA</text>
<path d="M201.4 797.6V804.4M199.7 797.6H203.1M199.7 804.4H203.1" stroke="#222" stroke-width="0.9" fill="none"/>
<circle cx="201.4" cy="801.0" r="3.1" fill="url(#gSphK)"/>
<path d="M230.1 773.2V782.8M228.4 773.2H231.8M228.4 782.8H231.8" stroke="#222" stroke-width="0.9" fill="none"/>
<circle cx="230.1" cy="778.0" r="3.1" fill="url(#gSphK)"/>
<path d="M258.3 720.4V730.0M256.6 720.4H260.0M256.6 730.0H260.0" stroke="#222" stroke-width="0.9" fill="none"/>
<circle cx="258.3" cy="725.2" r="3.1" fill="url(#gSphK)"/>
<path d="M266.9 693.8V710.4M265.2 693.8H268.6M265.2 710.4H268.6" stroke="#222" stroke-width="0.9" fill="none"/>
<circle cx="266.9" cy="702.1" r="3.1" fill="url(#gSphK)"/>
<circle cx="58.2" cy="796.5" r="3.1" fill="url(#gSphR)"/>
<circle cx="86.6" cy="794.0" r="3.1" fill="url(#gSphR)"/>
<path d="M115.0 785.2V790.4M113.3 785.2H116.7M113.3 790.4H116.7" stroke="#ff2a2a" stroke-width="0.9" fill="none"/>
<circle cx="115.0" cy="787.8" r="3.1" fill="url(#gSphR)"/>
<path d="M143.8 770.9V774.1M142.1 770.9H145.5M142.1 774.1H145.5" stroke="#ff2a2a" stroke-width="0.9" fill="none"/>
<circle cx="143.8" cy="772.5" r="3.1" fill="url(#gSphR)"/>
<path d="M173.0 734.2V749.4M171.3 734.2H174.7M171.3 749.4H174.7" stroke="#ff2a2a" stroke-width="0.9" fill="none"/>
<circle cx="173.0" cy="741.8" r="3.1" fill="url(#gSphR)"/>
<path d="M201.5 712.2V722.6M199.8 712.2H203.2M199.8 722.6H203.2" stroke="#ff2a2a" stroke-width="0.9" fill="none"/>
<circle cx="201.5" cy="717.4" r="3.1" fill="url(#gSphR)"/>
<path d="M230.1 704.6V707.0M228.4 704.6H231.8M228.4 707.0H231.8" stroke="#ff2a2a" stroke-width="0.9" fill="none"/>
<circle cx="230.1" cy="705.8" r="3.1" fill="url(#gSphR)"/>
<path d="M258.6 692.0V700.0M256.9 692.0H260.3M256.9 700.0H260.3" stroke="#ff2a2a" stroke-width="0.9" fill="none"/>
<circle cx="258.6" cy="696.0" r="3.1" fill="url(#gSphR)"/>
<text x="-1.0" y="884.2" font-size="22" font-weight="bold" fill="#000">(</text>
<text x="6.1" y="884.8" font-size="19" font-weight="bold" fill="#000" textLength="14.0" lengthAdjust="spacingAndGlyphs">D</text>
<text x="19.9" y="884.2" font-size="22" font-weight="bold" fill="#000">)</text>
<line x1="115" y1="1037" x2="229.6" y2="949.9" stroke="#ff3030" stroke-width="0.9"/>
<line x1="201.3" y1="1059.3" x2="267" y2="971.8" stroke="#333" stroke-width="0.9"/>
<line x1="54.9" y1="908.3" x2="54.9" y2="1075.0" stroke="#ff0000" stroke-width="1.3"/>
<line x1="272.4" y1="907.6" x2="272.4" y2="1075.0" stroke="#000" stroke-width="1.3"/>
<line x1="54.3" y1="1074.4" x2="275.4" y2="1074.4" stroke="#000" stroke-width="1.8"/>
<path d="M52.3 1074.4H54.9M53.5 1046.8H54.9M52.3 1019.2H54.9M53.5 991.7H54.9M52.3 964.1H54.9M53.5 936.5H54.9M52.3 908.9H54.9" stroke="#ff0000" stroke-width="1.2" fill="none"/>
<path d="M272.4 1074.4H275.4M272.4 1057.8H274.0M272.4 1041.2H275.4M272.4 1024.5H274.0M272.4 1007.9H275.4M272.4 991.3H274.0M272.4 974.7H275.4M272.4 958.1H274.0M272.4 941.4H275.4M272.4 924.8H274.0M272.4 908.2H275.4" stroke="#000" stroke-width="1.2" fill="none"/>
<path d="M57.5 1074.4V1078.6M66.1 1074.4V1076.6M71.1 1074.4V1076.6M74.7 1074.4V1076.6M77.5 1074.4V1076.6M79.7 1074.4V1076.6M81.7 1074.4V1076.6M83.3 1074.4V1076.6M84.8 1074.4V1076.6M86.1 1074.4V1078.6M94.7 1074.4V1076.6M99.8 1074.4V1076.6M103.3 1074.4V1076.6M106.1 1074.4V1076.6M108.4 1074.4V1076.6M110.3 1074.4V1076.6M112.0 1074.4V1076.6M113.4 1074.4V1076.6M114.7 1074.4V1078.6M123.3 1074.4V1076.6M128.4 1074.4V1076.6M132.0 1074.4V1076.6M134.7 1074.4V1076.6M137.0 1074.4V1076.6M138.9 1074.4V1076.6M140.6 1074.4V1076.6M142.0 1074.4V1076.6M143.4 1074.4V1078.6M152.0 1074.4V1076.6M157.0 1074.4V1076.6M160.6 1074.4V1076.6M163.4 1074.4V1076.6M165.6 1074.4V1076.6M167.6 1074.4V1076.6M169.2 1074.4V1076.6M170.7 1074.4V1076.6M172.0 1074.4V1078.6M180.6 1074.4V1076.6M185.6 1074.4V1076.6M189.2 1074.4V1076.6M192.0 1074.4V1076.6M194.3 1074.4V1076.6M196.2 1074.4V1076.6M197.8 1074.4V1076.6M199.3 1074.4V1076.6M200.6 1074.4V1078.6M209.2 1074.4V1076.6M214.3 1074.4V1076.6M217.9 1074.4V1076.6M220.6 1074.4V1076.6M222.9 1074.4V1076.6M224.8 1074.4V1076.6M226.5 1074.4V1076.6M227.9 1074.4V1076.6M229.2 1074.4V1078.6M237.9 1074.4V1076.6M242.9 1074.4V1076.6M246.5 1074.4V1076.6M249.3 1074.4V1076.6M251.5 1074.4V1076.6M253.4 1074.4V1076.6M255.1 1074.4V1076.6M256.6 1074.4V1076.6M257.9 1074.4V1078.6M266.5 1074.4V1076.6M271.5 1074.4V1076.6" stroke="#000" stroke-width="1.1" fill="none"/>
<text x="46.9" y="1080.6" font-size="14.3" font-weight="bold" fill="#ff0000" text-anchor="end" textLength="8.5" lengthAdjust="spacingAndGlyphs" stroke="#ff0000" stroke-width="0.35">0</text>
<text x="46.9" y="1025.9" font-size="14.3" font-weight="bold" fill="#ff0000" text-anchor="end" textLength="17.0" lengthAdjust="spacingAndGlyphs" stroke="#ff0000" stroke-width="0.35">20</text>
<text x="46.9" y="971.2" font-size="14.3" font-weight="bold" fill="#ff0000" text-anchor="end" textLength="17.0" lengthAdjust="spacingAndGlyphs" stroke="#ff0000" stroke-width="0.35">40</text>
<text x="46.9" y="916.5" font-size="14.3" font-weight="bold" fill="#ff0000" text-anchor="end" textLength="17.0" lengthAdjust="spacingAndGlyphs" stroke="#ff0000" stroke-width="0.35">60</text>
<text x="281.2" y="1082.9" font-size="14.3" font-weight="bold" fill="#111" textLength="17.0" lengthAdjust="spacingAndGlyphs" stroke="#111" stroke-width="0.35">70</text>
<text x="281.2" y="1050.2" font-size="14.3" font-weight="bold" fill="#111" textLength="17.0" lengthAdjust="spacingAndGlyphs" stroke="#111" stroke-width="0.35">80</text>
<text x="281.2" y="1017.5" font-size="14.3" font-weight="bold" fill="#111" textLength="17.0" lengthAdjust="spacingAndGlyphs" stroke="#111" stroke-width="0.35">90</text>
<text x="281.2" y="984.9" font-size="14.3" font-weight="bold" fill="#111" textLength="25.5" lengthAdjust="spacingAndGlyphs" stroke="#111" stroke-width="0.35">100</text>
<text x="281.2" y="952.2" font-size="14.3" font-weight="bold" fill="#111" textLength="25.5" lengthAdjust="spacingAndGlyphs" stroke="#111" stroke-width="0.35">110</text>
<text x="281.2" y="919.5" font-size="14.3" font-weight="bold" fill="#111" textLength="25.5" lengthAdjust="spacingAndGlyphs" stroke="#111" stroke-width="0.35">120</text>
<text x="45.5" y="1095.6" font-size="13.3" font-weight="bold" fill="#111" textLength="24.4" lengthAdjust="spacingAndGlyphs" stroke="#111" stroke-width="0.35">PBS</text>
<text x="73.9" y="1095.6" font-size="13.3" font-weight="bold" fill="#111" textLength="13.8" lengthAdjust="spacingAndGlyphs" stroke="#111" stroke-width="0.35">10</text>
<text x="88.3" y="1091.6" font-size="9.4" font-weight="bold" fill="#111" textLength="9.6" lengthAdjust="spacingAndGlyphs" stroke="#111" stroke-width="0.3">-2</text>
<text x="133.6" y="1095.6" font-size="13.3" font-weight="bold" fill="#111" textLength="13.8" lengthAdjust="spacingAndGlyphs" stroke="#111" stroke-width="0.35">10</text>
<text x="148.0" y="1091.6" font-size="9.4" font-weight="bold" fill="#111" textLength="6.0" lengthAdjust="spacingAndGlyphs" stroke="#111" stroke-width="0.3">0</text>
<text x="190.8" y="1095.6" font-size="13.3" font-weight="bold" fill="#111" textLength="13.8" lengthAdjust="spacingAndGlyphs" stroke="#111" stroke-width="0.35">10</text>
<text x="205.2" y="1091.6" font-size="9.4" font-weight="bold" fill="#111" textLength="6.0" lengthAdjust="spacingAndGlyphs" stroke="#111" stroke-width="0.3">2</text>
<text x="248.1" y="1095.6" font-size="13.3" font-weight="bold" fill="#111" textLength="13.8" lengthAdjust="spacingAndGlyphs" stroke="#111" stroke-width="0.35">10</text>
<text x="262.5" y="1091.6" font-size="9.4" font-weight="bold" fill="#111" textLength="6.0" lengthAdjust="spacingAndGlyphs" stroke="#111" stroke-width="0.3">4</text>
<text x="101.7" y="1115.6" font-size="13.5" font-weight="normal" fill="#111" textLength="101.5" lengthAdjust="spacingAndGlyphs" stroke="#111" stroke-width="0.6">[Inf-A] (ng/mL)</text>
<text x="17.5" y="998.2" font-size="14.5" font-weight="bold" fill="#ff0000" text-anchor="middle" textLength="199.0" lengthAdjust="spacingAndGlyphs" transform="rotate(-90 17.5 998.2)" stroke="#ff0000" stroke-width="0.3">Fluorescence intensity (a.u.)</text>
<text x="317.6" y="993.0" font-size="14.5" font-weight="bold" fill="#111" text-anchor="middle" textLength="142.0" lengthAdjust="spacingAndGlyphs" transform="rotate(90 317.6 993.0)" stroke="#111" stroke-width="0.3">Band intensity (a.u.)</text>
<text x="67.8" y="913.2" font-size="12.6" font-weight="bold" fill="#111" textLength="84.5" lengthAdjust="spacingAndGlyphs" stroke="#111" stroke-width="0.25">Fv-anti-NP-2</text>
<text x="62.8" y="1001.0" font-size="12.6" font-weight="normal" fill="#ff0000" textLength="97.4" lengthAdjust="spacingAndGlyphs" stroke="#ff0000" stroke-width="0.7">LOD: 0.05 ng/mL</text>
<path d="M201.3 1054.7V1059.9M199.6 1054.7H203.0M199.6 1059.9H203.0" stroke="#222" stroke-width="0.9" fill="none"/>
<circle cx="201.3" cy="1057.3" r="3.1" fill="url(#gSphK)"/>
<path d="M230.0 1029.8V1039.2M228.3 1029.8H231.7M228.3 1039.2H231.7" stroke="#222" stroke-width="0.9" fill="none"/>
<circle cx="230.0" cy="1034.5" r="3.1" fill="url(#gSphK)"/>
<path d="M258.2 976.6V986.2M256.5 976.6H259.9M256.5 986.2H259.9" stroke="#222" stroke-width="0.9" fill="none"/>
<circle cx="258.2" cy="981.4" r="3.1" fill="url(#gSphK)"/>
<path d="M267.0 950.0V967.2M265.3 950.0H268.7M265.3 967.2H268.7" stroke="#222" stroke-width="0.9" fill="none"/>
<circle cx="267.0" cy="958.6" r="3.1" fill="url(#gSphK)"/>
<path d="M57.9 1049.2V1052.4M56.2 1049.2H59.6M56.2 1052.4H59.6" stroke="#ff2a2a" stroke-width="0.9" fill="none"/>
<circle cx="57.9" cy="1050.8" r="3.1" fill="url(#gSphR)"/>
<circle cx="86.6" cy="1046.5" r="3.1" fill="url(#gSphR)"/>
<path d="M115.0 1034.0V1040.0M113.3 1034.0H116.7M113.3 1040.0H116.7" stroke="#ff2a2a" stroke-width="0.9" fill="none"/>
<circle cx="115.0" cy="1037.0" r="3.1" fill="url(#gSphR)"/>
<path d="M143.4 1015.3V1018.5M141.7 1015.3H145.1M141.7 1018.5H145.1" stroke="#ff2a2a" stroke-width="0.9" fill="none"/>
<circle cx="143.4" cy="1016.9" r="3.1" fill="url(#gSphR)"/>
<path d="M172.1 984.0V1000.4M170.4 984.0H173.8M170.4 1000.4H173.8" stroke="#ff2a2a" stroke-width="0.9" fill="none"/>
<circle cx="172.1" cy="992.2" r="3.1" fill="url(#gSphR)"/>
<path d="M200.6 959.5V969.5M198.9 959.5H202.3M198.9 969.5H202.3" stroke="#ff2a2a" stroke-width="0.9" fill="none"/>
<circle cx="200.6" cy="964.5" r="3.1" fill="url(#gSphR)"/>
<path d="M229.6 945.8V956.8M227.9 945.8H231.3M227.9 956.8H231.3" stroke="#ff2a2a" stroke-width="0.9" fill="none"/>
<circle cx="229.6" cy="951.3" r="3.1" fill="url(#gSphR)"/>
<path d="M257.9 942.4V958.4M256.2 942.4H259.6M256.2 958.4H259.6" stroke="#ff2a2a" stroke-width="0.9" fill="none"/>
<circle cx="257.9" cy="950.4" r="3.1" fill="url(#gSphR)"/>
<text x="356.4" y="625.0" font-size="22" font-weight="bold" fill="#000">(</text>
<text x="363.5" y="625.6" font-size="19" font-weight="bold" fill="#000" textLength="10.6" lengthAdjust="spacingAndGlyphs">F</text>
<text x="373.9" y="625.0" font-size="22" font-weight="bold" fill="#000">)</text>
<line x1="471" y1="789" x2="614" y2="704.5" stroke="#ff3030" stroke-width="0.9"/>
<line x1="558" y1="806.6" x2="622.2" y2="651" stroke="#333" stroke-width="0.9"/>
<line x1="411.1" y1="648.5" x2="411.1" y2="815.0" stroke="#ff0000" stroke-width="1.3"/>
<line x1="628.2" y1="648.2" x2="628.2" y2="815.0" stroke="#000" stroke-width="1.3"/>
<line x1="410.5" y1="814.4" x2="630.6" y2="814.4" stroke="#000" stroke-width="1.8"/>
<path d="M407.7 814.4H411.1M409.2 793.7H411.1M407.7 773.1H411.1M409.2 752.4H411.1M407.7 731.8H411.1M409.2 711.1H411.1M407.7 690.4H411.1M409.2 669.8H411.1M407.7 649.1H411.1" stroke="#ff0000" stroke-width="1.2" fill="none"/>
<path d="M628.2 814.4H630.6M628.2 797.8H629.5M628.2 781.3H630.6M628.2 764.7H629.5M628.2 748.2H630.6M628.2 731.6H629.5M628.2 715.0H630.6M628.2 698.5H629.5M628.2 681.9H630.6M628.2 665.4H629.5M628.2 648.8H630.6" stroke="#000" stroke-width="1.2" fill="none"/>
<path d="M412.7 814.4V816.6M414.0 814.4V818.6M422.6 814.4V816.6M427.6 814.4V816.6M431.1 814.4V816.6M433.9 814.4V816.6M436.2 814.4V816.6M438.1 814.4V816.6M439.7 814.4V816.6M441.2 814.4V816.6M442.5 814.4V818.6M451.1 814.4V816.6M456.1 814.4V816.6M459.7 814.4V816.6M462.4 814.4V816.6M464.7 814.4V816.6M466.6 814.4V816.6M468.3 814.4V816.6M469.7 814.4V816.6M471.0 814.4V818.6M479.6 814.4V816.6M484.7 814.4V816.6M488.2 814.4V816.6M491.0 814.4V816.6M493.2 814.4V816.6M495.2 814.4V816.6M496.8 814.4V816.6M498.3 814.4V816.6M499.6 814.4V818.6M508.2 814.4V816.6M513.2 814.4V816.6M516.8 814.4V816.6M519.5 814.4V816.6M521.8 814.4V816.6M523.7 814.4V816.6M525.4 814.4V816.6M526.8 814.4V816.6M528.1 814.4V818.6M536.7 814.4V816.6M541.7 814.4V816.6M545.3 814.4V816.6M548.1 814.4V816.6M550.3 814.4V816.6M552.2 814.4V816.6M553.9 814.4V816.6M555.4 814.4V816.6M556.7 814.4V818.6M565.3 814.4V816.6M570.3 814.4V816.6M573.8 814.4V816.6M576.6 814.4V816.6M578.9 814.4V816.6M580.8 814.4V816.6M582.4 814.4V816.6M583.9 814.4V816.6M585.2 814.4V818.6M593.8 814.4V816.6M598.8 814.4V816.6M602.4 814.4V816.6M605.1 814.4V816.6M607.4 814.4V816.6M609.3 814.4V816.6M611.0 814.4V816.6M612.4 814.4V816.6M613.7 814.4V818.6M622.3 814.4V816.6M627.4 814.4V816.6" stroke="#000" stroke-width="1.1" fill="none"/>
<text x="402.9" y="819.3" font-size="14.3" font-weight="bold" fill="#ff0000" text-anchor="end" textLength="8.5" lengthAdjust="spacingAndGlyphs" stroke="#ff0000" stroke-width="0.35">0</text>
<text x="402.9" y="778.2" font-size="14.3" font-weight="bold" fill="#ff0000" text-anchor="end" textLength="17.0" lengthAdjust="spacingAndGlyphs" stroke="#ff0000" stroke-width="0.35">20</text>
<text x="402.9" y="737.0" font-size="14.3" font-weight="bold" fill="#ff0000" text-anchor="end" textLength="17.0" lengthAdjust="spacingAndGlyphs" stroke="#ff0000" stroke-width="0.35">40</text>
<text x="402.9" y="695.9" font-size="14.3" font-weight="bold" fill="#ff0000" text-anchor="end" textLength="17.0" lengthAdjust="spacingAndGlyphs" stroke="#ff0000" stroke-width="0.35">60</text>
<text x="402.9" y="654.8" font-size="14.3" font-weight="bold" fill="#ff0000" text-anchor="end" textLength="17.0" lengthAdjust="spacingAndGlyphs" stroke="#ff0000" stroke-width="0.35">80</text>
<text x="637.0" y="821.2" font-size="14.3" font-weight="bold" fill="#111" textLength="17.0" lengthAdjust="spacingAndGlyphs" stroke="#111" stroke-width="0.35">70</text>
<text x="637.0" y="788.5" font-size="14.3" font-weight="bold" fill="#111" textLength="17.0" lengthAdjust="spacingAndGlyphs" stroke="#111" stroke-width="0.35">80</text>
<text x="637.0" y="755.7" font-size="14.3" font-weight="bold" fill="#111" textLength="17.0" lengthAdjust="spacingAndGlyphs" stroke="#111" stroke-width="0.35">90</text>
<text x="637.0" y="723.0" font-size="14.3" font-weight="bold" fill="#111" textLength="25.5" lengthAdjust="spacingAndGlyphs" stroke="#111" stroke-width="0.35">100</text>
<text x="637.0" y="690.2" font-size="14.3" font-weight="bold" fill="#111" textLength="25.5" lengthAdjust="spacingAndGlyphs" stroke="#111" stroke-width="0.35">110</text>
<text x="637.0" y="657.5" font-size="14.3" font-weight="bold" fill="#111" textLength="25.5" lengthAdjust="spacingAndGlyphs" stroke="#111" stroke-width="0.35">120</text>
<text x="402.0" y="833.8" font-size="13.3" font-weight="bold" fill="#111" textLength="24.4" lengthAdjust="spacingAndGlyphs" stroke="#111" stroke-width="0.35">PBS</text>
<text x="430.3" y="833.8" font-size="13.3" font-weight="bold" fill="#111" textLength="13.8" lengthAdjust="spacingAndGlyphs" stroke="#111" stroke-width="0.35">10</text>
<text x="444.7" y="829.8" font-size="9.4" font-weight="bold" fill="#111" textLength="9.6" lengthAdjust="spacingAndGlyphs" stroke="#111" stroke-width="0.3">-2</text>
<text x="489.8" y="833.8" font-size="13.3" font-weight="bold" fill="#111" textLength="13.8" lengthAdjust="spacingAndGlyphs" stroke="#111" stroke-width="0.35">10</text>
<text x="504.2" y="829.8" font-size="9.4" font-weight="bold" fill="#111" textLength="6.0" lengthAdjust="spacingAndGlyphs" stroke="#111" stroke-width="0.3">0</text>
<text x="546.9" y="833.8" font-size="13.3" font-weight="bold" fill="#111" textLength="13.8" lengthAdjust="spacingAndGlyphs" stroke="#111" stroke-width="0.35">10</text>
<text x="561.3" y="829.8" font-size="9.4" font-weight="bold" fill="#111" textLength="6.0" lengthAdjust="spacingAndGlyphs" stroke="#111" stroke-width="0.3">2</text>
<text x="603.9" y="833.8" font-size="13.3" font-weight="bold" fill="#111" textLength="13.8" lengthAdjust="spacingAndGlyphs" stroke="#111" stroke-width="0.35">10</text>
<text x="618.3" y="829.8" font-size="9.4" font-weight="bold" fill="#111" textLength="6.0" lengthAdjust="spacingAndGlyphs" stroke="#111" stroke-width="0.3">4</text>
<text x="467.8" y="854.0" font-size="13.5" font-weight="normal" fill="#111" textLength="101.5" lengthAdjust="spacingAndGlyphs" stroke="#111" stroke-width="0.6">[Inf-B] (ng/mL)</text>
<text x="375.3" y="735.6" font-size="14.5" font-weight="bold" fill="#ff0000" text-anchor="middle" textLength="199.0" lengthAdjust="spacingAndGlyphs" transform="rotate(-90 375.3 735.6)" stroke="#ff0000" stroke-width="0.3">Fluorescence intensity (a.u.)</text>
<text x="673.1" y="731.2" font-size="14.5" font-weight="bold" fill="#111" text-anchor="middle" textLength="142.0" lengthAdjust="spacingAndGlyphs" transform="rotate(90 673.1 731.2)" stroke="#111" stroke-width="0.3">Band intensity (a.u.)</text>
<text x="422.0" y="652.2" font-size="12.6" font-weight="bold" fill="#111" textLength="84.5" lengthAdjust="spacingAndGlyphs" stroke="#111" stroke-width="0.25">Fv-anti-NP-1</text>
<text x="471.4" y="705.9" font-size="12.6" font-weight="bold" fill="#ff0000" textLength="54.0" lengthAdjust="spacingAndGlyphs">One-step</text>
<text x="471.2" y="723.0" font-size="12.6" font-weight="bold" fill="#ff0000" textLength="79.4" lengthAdjust="spacingAndGlyphs">immunoassay</text>
<text x="422.8" y="753.4" font-size="12.6" font-weight="normal" fill="#ff0000" textLength="98.5" lengthAdjust="spacingAndGlyphs" stroke="#ff0000" stroke-width="0.7">LOD: 0.21 ng/mL</text>
<text x="592.0" y="666.5" font-size="12.6" font-weight="normal" fill="#111" textLength="19.5" lengthAdjust="spacingAndGlyphs" stroke="#111" stroke-width="0.55">LFA</text>
<path d="M557.1 792.3V802.3M555.4 792.3H558.8M555.4 802.3H558.8" stroke="#222" stroke-width="0.9" fill="none"/>
<circle cx="557.1" cy="797.3" r="3.1" fill="url(#gSphK)"/>
<path d="M585.7 759.3V769.3M584.0 759.3H587.4M584.0 769.3H587.4" stroke="#222" stroke-width="0.9" fill="none"/>
<circle cx="585.7" cy="764.3" r="3.1" fill="url(#gSphK)"/>
<path d="M614.0 669.7V679.7M612.3 669.7H615.7M612.3 679.7H615.7" stroke="#222" stroke-width="0.9" fill="none"/>
<circle cx="614.0" cy="674.7" r="3.1" fill="url(#gSphK)"/>
<circle cx="414.0" cy="795.0" r="3.0" fill="#fff" stroke="#ff3b3b" stroke-width="1"/>
<path d="M442.7 792.4V795.6M441.0 792.4H444.4M441.0 795.6H444.4" stroke="#ff2a2a" stroke-width="0.9" fill="none"/>
<circle cx="442.7" cy="794.0" r="3.0" fill="#fff" stroke="#ff3b3b" stroke-width="1"/>
<path d="M471.0 786.0V792.0M469.3 786.0H472.7M469.3 792.0H472.7" stroke="#ff2a2a" stroke-width="0.9" fill="none"/>
<circle cx="471.0" cy="789.0" r="3.0" fill="#fff" stroke="#ff3b3b" stroke-width="1"/>
<path d="M499.2 770.0V780.4M497.5 770.0H500.9M497.5 780.4H500.9" stroke="#ff2a2a" stroke-width="0.9" fill="none"/>
<circle cx="499.2" cy="775.2" r="3.0" fill="#fff" stroke="#ff3b3b" stroke-width="1"/>
<path d="M528.2 743.9V767.1M526.5 743.9H529.9M526.5 767.1H529.9" stroke="#ff2a2a" stroke-width="0.9" fill="none"/>
<circle cx="528.2" cy="755.5" r="3.0" fill="#fff" stroke="#ff3b3b" stroke-width="1"/>
<path d="M556.5 729.3V740.9M554.8 729.3H558.2M554.8 740.9H558.2" stroke="#ff2a2a" stroke-width="0.9" fill="none"/>
<circle cx="556.5" cy="735.1" r="3.0" fill="#fff" stroke="#ff3b3b" stroke-width="1"/>
<path d="M585.1 718.5V722.5M583.4 718.5H586.8M583.4 722.5H586.8" stroke="#ff2a2a" stroke-width="0.9" fill="none"/>
<circle cx="585.1" cy="720.5" r="3.0" fill="#fff" stroke="#ff3b3b" stroke-width="1"/>
<path d="M614.0 703.0V721.6M612.3 703.0H615.7M612.3 721.6H615.7" stroke="#ff2a2a" stroke-width="0.9" fill="none"/>
<circle cx="614.0" cy="712.3" r="3.0" fill="#fff" stroke="#ff3b3b" stroke-width="1"/>
<text x="356.1" y="882.8" font-size="22" font-weight="bold" fill="#000">(</text>
<text x="363.2" y="883.4" font-size="19" font-weight="bold" fill="#000" textLength="14.6" lengthAdjust="spacingAndGlyphs">G</text>
<text x="377.6" y="882.8" font-size="22" font-weight="bold" fill="#000">)</text>
<line x1="499" y1="1043.3" x2="614" y2="956.6" stroke="#ff3030" stroke-width="0.9"/>
<line x1="558" y1="1066.6" x2="622.2" y2="911.9" stroke="#333" stroke-width="0.9"/>
<line x1="410.1" y1="907.8" x2="410.1" y2="1074.6" stroke="#ff0000" stroke-width="1.3"/>
<line x1="627.5" y1="907.9" x2="627.5" y2="1074.6" stroke="#000" stroke-width="1.3"/>
<line x1="409.5" y1="1074.0" x2="630.5" y2="1074.0" stroke="#000" stroke-width="1.8"/>
<path d="M406.5 1074.0H410.1M408.1 1046.4H410.1M406.5 1018.8H410.1M408.1 991.2H410.1M406.5 963.6H410.1M408.1 936.0H410.1M406.5 908.4H410.1" stroke="#ff0000" stroke-width="1.2" fill="none"/>
<path d="M627.5 1074.0H630.5M627.5 1057.5H629.1M627.5 1040.9H630.5M627.5 1024.3H629.1M627.5 1007.8H630.5M627.5 991.2H629.1M627.5 974.7H630.5M627.5 958.1H629.1M627.5 941.6H630.5M627.5 925.0H629.1M627.5 908.5H630.5" stroke="#000" stroke-width="1.2" fill="none"/>
<path d="M412.6 1074.0V1078.2M421.3 1074.0V1076.2M426.4 1074.0V1076.2M430.0 1074.0V1076.2M432.7 1074.0V1076.2M435.0 1074.0V1076.2M436.9 1074.0V1076.2M438.6 1074.0V1076.2M440.1 1074.0V1076.2M441.4 1074.0V1078.2M450.1 1074.0V1076.2M455.1 1074.0V1076.2M458.7 1074.0V1076.2M461.5 1074.0V1076.2M463.8 1074.0V1076.2M465.7 1074.0V1076.2M467.4 1074.0V1076.2M468.9 1074.0V1076.2M470.2 1074.0V1078.2M478.8 1074.0V1076.2M483.9 1074.0V1076.2M487.5 1074.0V1076.2M490.3 1074.0V1076.2M492.6 1074.0V1076.2M494.5 1074.0V1076.2M496.2 1074.0V1076.2M497.6 1074.0V1076.2M498.9 1074.0V1078.2M507.6 1074.0V1076.2M512.7 1074.0V1076.2M516.3 1074.0V1076.2M519.0 1074.0V1076.2M521.3 1074.0V1076.2M523.3 1074.0V1076.2M524.9 1074.0V1076.2M526.4 1074.0V1076.2M527.7 1074.0V1078.2M536.4 1074.0V1076.2M541.4 1074.0V1076.2M545.0 1074.0V1076.2M547.8 1074.0V1076.2M550.1 1074.0V1076.2M552.0 1074.0V1076.2M553.7 1074.0V1076.2M555.2 1074.0V1076.2M556.5 1074.0V1078.2M565.1 1074.0V1076.2M570.2 1074.0V1076.2M573.8 1074.0V1076.2M576.6 1074.0V1076.2M578.9 1074.0V1076.2M580.8 1074.0V1076.2M582.5 1074.0V1076.2M583.9 1074.0V1076.2M585.2 1074.0V1078.2M593.9 1074.0V1076.2M599.0 1074.0V1076.2M602.6 1074.0V1076.2M605.4 1074.0V1076.2M607.6 1074.0V1076.2M609.6 1074.0V1076.2M611.2 1074.0V1076.2M612.7 1074.0V1076.2M614.0 1074.0V1078.2M622.7 1074.0V1076.2" stroke="#000" stroke-width="1.1" fill="none"/>
<text x="402.9" y="1081.3" font-size="14.3" font-weight="bold" fill="#ff0000" text-anchor="end" textLength="8.5" lengthAdjust="spacingAndGlyphs" stroke="#ff0000" stroke-width="0.35">0</text>
<text x="402.9" y="1026.3" font-size="14.3" font-weight="bold" fill="#ff0000" text-anchor="end" textLength="17.0" lengthAdjust="spacingAndGlyphs" stroke="#ff0000" stroke-width="0.35">20</text>
<text x="402.9" y="971.4" font-size="14.3" font-weight="bold" fill="#ff0000" text-anchor="end" textLength="17.0" lengthAdjust="spacingAndGlyphs" stroke="#ff0000" stroke-width="0.35">40</text>
<text x="402.9" y="916.4" font-size="14.3" font-weight="bold" fill="#ff0000" text-anchor="end" textLength="17.0" lengthAdjust="spacingAndGlyphs" stroke="#ff0000" stroke-width="0.35">60</text>
<text x="636.8" y="1082.5" font-size="14.3" font-weight="bold" fill="#111" textLength="17.0" lengthAdjust="spacingAndGlyphs" stroke="#111" stroke-width="0.35">70</text>
<text x="636.8" y="1049.9" font-size="14.3" font-weight="bold" fill="#111" textLength="17.0" lengthAdjust="spacingAndGlyphs" stroke="#111" stroke-width="0.35">80</text>
<text x="636.8" y="1017.3" font-size="14.3" font-weight="bold" fill="#111" textLength="17.0" lengthAdjust="spacingAndGlyphs" stroke="#111" stroke-width="0.35">90</text>
<text x="636.8" y="984.8" font-size="14.3" font-weight="bold" fill="#111" textLength="25.5" lengthAdjust="spacingAndGlyphs" stroke="#111" stroke-width="0.35">100</text>
<text x="636.8" y="952.2" font-size="14.3" font-weight="bold" fill="#111" textLength="25.5" lengthAdjust="spacingAndGlyphs" stroke="#111" stroke-width="0.35">110</text>
<text x="636.8" y="919.6" font-size="14.3" font-weight="bold" fill="#111" textLength="25.5" lengthAdjust="spacingAndGlyphs" stroke="#111" stroke-width="0.35">120</text>
<text x="400.6" y="1095.6" font-size="13.3" font-weight="bold" fill="#111" textLength="24.4" lengthAdjust="spacingAndGlyphs" stroke="#111" stroke-width="0.35">PBS</text>
<text x="429.2" y="1095.6" font-size="13.3" font-weight="bold" fill="#111" textLength="13.8" lengthAdjust="spacingAndGlyphs" stroke="#111" stroke-width="0.35">10</text>
<text x="443.6" y="1091.6" font-size="9.4" font-weight="bold" fill="#111" textLength="9.6" lengthAdjust="spacingAndGlyphs" stroke="#111" stroke-width="0.3">-2</text>
<text x="489.1" y="1095.6" font-size="13.3" font-weight="bold" fill="#111" textLength="13.8" lengthAdjust="spacingAndGlyphs" stroke="#111" stroke-width="0.35">10</text>
<text x="503.5" y="1091.6" font-size="9.4" font-weight="bold" fill="#111" textLength="6.0" lengthAdjust="spacingAndGlyphs" stroke="#111" stroke-width="0.3">0</text>
<text x="546.7" y="1095.6" font-size="13.3" font-weight="bold" fill="#111" textLength="13.8" lengthAdjust="spacingAndGlyphs" stroke="#111" stroke-width="0.35">10</text>
<text x="561.1" y="1091.6" font-size="9.4" font-weight="bold" fill="#111" textLength="6.0" lengthAdjust="spacingAndGlyphs" stroke="#111" stroke-width="0.3">2</text>
<text x="604.2" y="1095.6" font-size="13.3" font-weight="bold" fill="#111" textLength="13.8" lengthAdjust="spacingAndGlyphs" stroke="#111" stroke-width="0.35">10</text>
<text x="618.6" y="1091.6" font-size="9.4" font-weight="bold" fill="#111" textLength="6.0" lengthAdjust="spacingAndGlyphs" stroke="#111" stroke-width="0.3">4</text>
<text x="467.8" y="1114.8" font-size="13.5" font-weight="normal" fill="#111" textLength="101.5" lengthAdjust="spacingAndGlyphs" stroke="#111" stroke-width="0.6">[Inf-B] (ng/mL)</text>
<text x="375.0" y="997.4" font-size="14.5" font-weight="bold" fill="#ff0000" text-anchor="middle" textLength="199.0" lengthAdjust="spacingAndGlyphs" transform="rotate(-90 375.0 997.4)" stroke="#ff0000" stroke-width="0.3">Fluorescence intensity (a.u.)</text>
<text x="673.2" y="993.0" font-size="14.5" font-weight="bold" fill="#111" text-anchor="middle" textLength="142.0" lengthAdjust="spacingAndGlyphs" transform="rotate(90 673.2 993.0)" stroke="#111" stroke-width="0.3">Band intensity (a.u.)</text>
<text x="422.0" y="912.2" font-size="12.6" font-weight="bold" fill="#111" textLength="84.5" lengthAdjust="spacingAndGlyphs" stroke="#111" stroke-width="0.25">Fv-anti-NP-2</text>
<text x="420.3" y="1022.4" font-size="12.6" font-weight="normal" fill="#ff0000" textLength="98.3" lengthAdjust="spacingAndGlyphs" stroke="#ff0000" stroke-width="0.7">LOD: 1.78 ng/mL</text>
<path d="M556.5 1052.9V1062.9M554.8 1052.9H558.2M554.8 1062.9H558.2" stroke="#222" stroke-width="0.9" fill="none"/>
<circle cx="556.5" cy="1057.9" r="3.1" fill="url(#gSphK)"/>
<path d="M585.1 1018.9V1030.9M583.4 1018.9H586.8M583.4 1030.9H586.8" stroke="#222" stroke-width="0.9" fill="none"/>
<circle cx="585.1" cy="1024.9" r="3.1" fill="url(#gSphK)"/>
<path d="M614.0 930.3V940.3M612.3 930.3H615.7M612.3 940.3H615.7" stroke="#222" stroke-width="0.9" fill="none"/>
<circle cx="614.0" cy="935.3" r="3.1" fill="url(#gSphK)"/>
<path d="M413.3 1045.2V1056.4M411.6 1045.2H415.0M411.6 1056.4H415.0" stroke="#ff2a2a" stroke-width="0.9" fill="none"/>
<circle cx="413.3" cy="1050.8" r="3.0" fill="#fff" stroke="#ff3b3b" stroke-width="1"/>
<path d="M442.2 1047.1V1057.9M440.5 1047.1H443.9M440.5 1057.9H443.9" stroke="#ff2a2a" stroke-width="0.9" fill="none"/>
<circle cx="442.2" cy="1052.5" r="3.0" fill="#fff" stroke="#ff3b3b" stroke-width="1"/>
<path d="M470.5 1043.2V1055.8M468.8 1043.2H472.2M468.8 1055.8H472.2" stroke="#ff2a2a" stroke-width="0.9" fill="none"/>
<circle cx="470.5" cy="1049.5" r="3.0" fill="#fff" stroke="#ff3b3b" stroke-width="1"/>
<path d="M498.9 1036.0V1045.0M497.2 1036.0H500.6M497.2 1045.0H500.6" stroke="#ff2a2a" stroke-width="0.9" fill="none"/>
<circle cx="498.9" cy="1040.5" r="3.0" fill="#fff" stroke="#ff3b3b" stroke-width="1"/>
<path d="M527.6 1023.4V1032.2M525.9 1023.4H529.3M525.9 1032.2H529.3" stroke="#ff2a2a" stroke-width="0.9" fill="none"/>
<circle cx="527.6" cy="1027.8" r="3.0" fill="#fff" stroke="#ff3b3b" stroke-width="1"/>
<path d="M556.5 996.4V1006.6M554.8 996.4H558.2M554.8 1006.6H558.2" stroke="#ff2a2a" stroke-width="0.9" fill="none"/>
<circle cx="556.5" cy="1001.5" r="3.0" fill="#fff" stroke="#ff3b3b" stroke-width="1"/>
<path d="M585.1 961.2V996.8M583.4 961.2H586.8M583.4 996.8H586.8" stroke="#ff2a2a" stroke-width="0.9" fill="none"/>
<circle cx="585.1" cy="979.0" r="3.0" fill="#fff" stroke="#ff3b3b" stroke-width="1"/>
<path d="M614.0 955.6V958.8M612.3 955.6H615.7M612.3 958.8H615.7" stroke="#ff2a2a" stroke-width="0.9" fill="none"/>
<circle cx="614.0" cy="957.2" r="3.0" fill="#fff" stroke="#ff3b3b" stroke-width="1"/>
</svg>
</body></html>
